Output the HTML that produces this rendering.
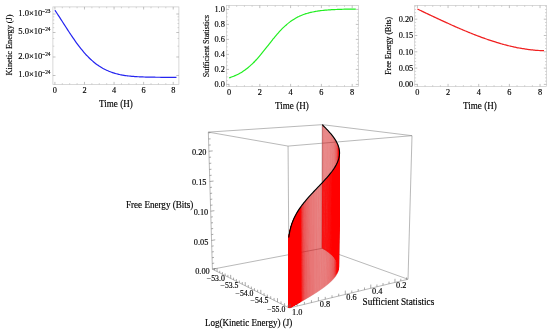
<!DOCTYPE html>
<html><head><meta charset="utf-8"><style>html,body{margin:0;padding:0;background:#fff;overflow:hidden}svg{display:block}</style></head><body>
<svg width="550" height="331" viewBox="0 0 550 331" font-family="Liberation Serif, Times New Roman, serif" fill="#000">
<style>text{stroke:#000;stroke-width:0.15px;paint-order:stroke}</style>
<rect width="550" height="331" fill="#fff"/>
<rect x="52.9" y="6.9" width="126" height="77.6" fill="none" stroke="#c8c8c8" stroke-width="0.7"/>
<line x1="54.9" y1="84.5" x2="54.9" y2="81.9" stroke="#909090" stroke-width="0.55"/>
<line x1="54.9" y1="6.9" x2="54.9" y2="9.5" stroke="#909090" stroke-width="0.55"/>
<line x1="62.3" y1="84.5" x2="62.3" y2="83.1" stroke="#b0b0b0" stroke-width="0.55"/>
<line x1="62.3" y1="6.9" x2="62.3" y2="8.3" stroke="#b0b0b0" stroke-width="0.55"/>
<line x1="69.69" y1="84.5" x2="69.69" y2="83.1" stroke="#b0b0b0" stroke-width="0.55"/>
<line x1="69.69" y1="6.9" x2="69.69" y2="8.3" stroke="#b0b0b0" stroke-width="0.55"/>
<line x1="77.08" y1="84.5" x2="77.08" y2="83.1" stroke="#b0b0b0" stroke-width="0.55"/>
<line x1="77.08" y1="6.9" x2="77.08" y2="8.3" stroke="#b0b0b0" stroke-width="0.55"/>
<line x1="84.48" y1="84.5" x2="84.48" y2="81.9" stroke="#909090" stroke-width="0.55"/>
<line x1="84.48" y1="6.9" x2="84.48" y2="9.5" stroke="#909090" stroke-width="0.55"/>
<line x1="91.88" y1="84.5" x2="91.88" y2="83.1" stroke="#b0b0b0" stroke-width="0.55"/>
<line x1="91.88" y1="6.9" x2="91.88" y2="8.3" stroke="#b0b0b0" stroke-width="0.55"/>
<line x1="99.27" y1="84.5" x2="99.27" y2="83.1" stroke="#b0b0b0" stroke-width="0.55"/>
<line x1="99.27" y1="6.9" x2="99.27" y2="8.3" stroke="#b0b0b0" stroke-width="0.55"/>
<line x1="106.66" y1="84.5" x2="106.66" y2="83.1" stroke="#b0b0b0" stroke-width="0.55"/>
<line x1="106.66" y1="6.9" x2="106.66" y2="8.3" stroke="#b0b0b0" stroke-width="0.55"/>
<line x1="114.06" y1="84.5" x2="114.06" y2="81.9" stroke="#909090" stroke-width="0.55"/>
<line x1="114.06" y1="6.9" x2="114.06" y2="9.5" stroke="#909090" stroke-width="0.55"/>
<line x1="121.45" y1="84.5" x2="121.45" y2="83.1" stroke="#b0b0b0" stroke-width="0.55"/>
<line x1="121.45" y1="6.9" x2="121.45" y2="8.3" stroke="#b0b0b0" stroke-width="0.55"/>
<line x1="128.85" y1="84.5" x2="128.85" y2="83.1" stroke="#b0b0b0" stroke-width="0.55"/>
<line x1="128.85" y1="6.9" x2="128.85" y2="8.3" stroke="#b0b0b0" stroke-width="0.55"/>
<line x1="136.25" y1="84.5" x2="136.25" y2="83.1" stroke="#b0b0b0" stroke-width="0.55"/>
<line x1="136.25" y1="6.9" x2="136.25" y2="8.3" stroke="#b0b0b0" stroke-width="0.55"/>
<line x1="143.64" y1="84.5" x2="143.64" y2="81.9" stroke="#909090" stroke-width="0.55"/>
<line x1="143.64" y1="6.9" x2="143.64" y2="9.5" stroke="#909090" stroke-width="0.55"/>
<line x1="151.03" y1="84.5" x2="151.03" y2="83.1" stroke="#b0b0b0" stroke-width="0.55"/>
<line x1="151.03" y1="6.9" x2="151.03" y2="8.3" stroke="#b0b0b0" stroke-width="0.55"/>
<line x1="158.43" y1="84.5" x2="158.43" y2="83.1" stroke="#b0b0b0" stroke-width="0.55"/>
<line x1="158.43" y1="6.9" x2="158.43" y2="8.3" stroke="#b0b0b0" stroke-width="0.55"/>
<line x1="165.82" y1="84.5" x2="165.82" y2="83.1" stroke="#b0b0b0" stroke-width="0.55"/>
<line x1="165.82" y1="6.9" x2="165.82" y2="8.3" stroke="#b0b0b0" stroke-width="0.55"/>
<line x1="173.22" y1="84.5" x2="173.22" y2="81.9" stroke="#909090" stroke-width="0.55"/>
<line x1="173.22" y1="6.9" x2="173.22" y2="9.5" stroke="#909090" stroke-width="0.55"/>
<line x1="52.9" y1="75.5" x2="55.5" y2="75.5" stroke="#909090" stroke-width="0.55"/>
<line x1="178.9" y1="75.5" x2="176.3" y2="75.5" stroke="#909090" stroke-width="0.55"/>
<line x1="52.9" y1="56.99" x2="55.5" y2="56.99" stroke="#909090" stroke-width="0.55"/>
<line x1="178.9" y1="56.99" x2="176.3" y2="56.99" stroke="#909090" stroke-width="0.55"/>
<line x1="52.9" y1="46.16" x2="54.3" y2="46.16" stroke="#b0b0b0" stroke-width="0.55"/>
<line x1="178.9" y1="46.16" x2="177.5" y2="46.16" stroke="#b0b0b0" stroke-width="0.55"/>
<line x1="52.9" y1="38.47" x2="54.3" y2="38.47" stroke="#b0b0b0" stroke-width="0.55"/>
<line x1="178.9" y1="38.47" x2="177.5" y2="38.47" stroke="#b0b0b0" stroke-width="0.55"/>
<line x1="52.9" y1="32.51" x2="55.5" y2="32.51" stroke="#909090" stroke-width="0.55"/>
<line x1="178.9" y1="32.51" x2="176.3" y2="32.51" stroke="#909090" stroke-width="0.55"/>
<line x1="52.9" y1="27.64" x2="54.3" y2="27.64" stroke="#b0b0b0" stroke-width="0.55"/>
<line x1="178.9" y1="27.64" x2="177.5" y2="27.64" stroke="#b0b0b0" stroke-width="0.55"/>
<line x1="52.9" y1="23.53" x2="54.3" y2="23.53" stroke="#b0b0b0" stroke-width="0.55"/>
<line x1="178.9" y1="23.53" x2="177.5" y2="23.53" stroke="#b0b0b0" stroke-width="0.55"/>
<line x1="52.9" y1="19.96" x2="54.3" y2="19.96" stroke="#b0b0b0" stroke-width="0.55"/>
<line x1="178.9" y1="19.96" x2="177.5" y2="19.96" stroke="#b0b0b0" stroke-width="0.55"/>
<line x1="52.9" y1="16.81" x2="54.3" y2="16.81" stroke="#b0b0b0" stroke-width="0.55"/>
<line x1="178.9" y1="16.81" x2="177.5" y2="16.81" stroke="#b0b0b0" stroke-width="0.55"/>
<line x1="52.9" y1="14" x2="55.5" y2="14" stroke="#909090" stroke-width="0.55"/>
<line x1="178.9" y1="14" x2="176.3" y2="14" stroke="#909090" stroke-width="0.55"/>
<text x="42.4" y="15.9" font-size="8.6" text-anchor="end">1.0×10</text>
<text x="42.3" y="12.6" font-size="5.2" textLength="8.2" lengthAdjust="spacingAndGlyphs">−23</text>
<text x="42.4" y="34.41" font-size="8.6" text-anchor="end">5.0×10</text>
<text x="42.3" y="31.11" font-size="5.2" textLength="8.2" lengthAdjust="spacingAndGlyphs">−24</text>
<text x="42.4" y="58.89" font-size="8.6" text-anchor="end">2.0×10</text>
<text x="42.3" y="55.59" font-size="5.2" textLength="8.2" lengthAdjust="spacingAndGlyphs">−24</text>
<text x="42.4" y="77.4" font-size="8.6" text-anchor="end">1.0×10</text>
<text x="42.3" y="74.1" font-size="5.2" textLength="8.2" lengthAdjust="spacingAndGlyphs">−24</text>
<text x="54.9" y="92.7" font-size="8.3" text-anchor="middle">0</text>
<text x="84.48" y="92.7" font-size="8.3" text-anchor="middle">2</text>
<text x="114.06" y="92.7" font-size="8.3" text-anchor="middle">4</text>
<text x="143.64" y="92.7" font-size="8.3" text-anchor="middle">6</text>
<text x="173.22" y="92.7" font-size="8.3" text-anchor="middle">8</text>
<text x="99.1" y="107.2" font-size="9.3" text-anchor="start" textLength="33.6" lengthAdjust="spacingAndGlyphs">Time (H)</text>
<text transform="translate(12.3,75.4) rotate(-90)" font-size="8.4" textLength="61" lengthAdjust="spacingAndGlyphs">Kinetic Energy (J)</text>
<path d="M54.9,10.26 C55.16,10.64 55.93,11.76 56.44,12.53 C56.95,13.29 57.46,14.07 57.98,14.84 C58.49,15.62 59,16.41 59.52,17.2 C60.03,17.99 60.54,18.78 61.06,19.58 C61.57,20.38 62.08,21.18 62.59,21.98 C63.11,22.78 63.62,23.58 64.13,24.38 C64.65,25.18 65.16,25.98 65.67,26.78 C66.19,27.58 66.7,28.38 67.21,29.17 C67.72,29.96 68.24,30.75 68.75,31.54 C69.26,32.32 69.78,33.1 70.29,33.88 C70.8,34.65 71.32,35.42 71.83,36.18 C72.34,36.94 72.85,37.69 73.37,38.43 C73.88,39.18 74.39,39.91 74.91,40.64 C75.42,41.36 75.93,42.08 76.44,42.79 C76.96,43.5 77.47,44.19 77.98,44.88 C78.5,45.56 79.01,46.24 79.52,46.9 C80.04,47.56 80.55,48.22 81.06,48.86 C81.57,49.5 82.09,50.12 82.6,50.74 C83.11,51.35 83.63,51.96 84.14,52.55 C84.65,53.14 85.17,53.71 85.68,54.28 C86.19,54.84 86.7,55.39 87.22,55.93 C87.73,56.47 88.24,56.99 88.76,57.5 C89.27,58.01 89.78,58.51 90.29,59 C90.81,59.48 91.32,59.95 91.83,60.41 C92.35,60.87 92.86,61.32 93.37,61.75 C93.89,62.18 94.4,62.6 94.91,63.01 C95.42,63.42 95.94,63.81 96.45,64.2 C96.96,64.58 97.48,64.95 97.99,65.31 C98.5,65.67 99.02,66.01 99.53,66.35 C100.04,66.68 100.55,67 101.07,67.32 C101.58,67.63 102.09,67.93 102.61,68.22 C103.12,68.51 103.63,68.79 104.15,69.06 C104.66,69.32 105.17,69.58 105.68,69.83 C106.2,70.08 106.71,70.32 107.22,70.55 C107.74,70.78 108.25,71 108.76,71.21 C109.27,71.42 109.79,71.62 110.3,71.81 C110.81,72.01 111.33,72.19 111.84,72.37 C112.35,72.55 112.87,72.72 113.38,72.88 C113.89,73.04 114.4,73.2 114.92,73.35 C115.43,73.49 115.94,73.64 116.46,73.77 C116.97,73.9 117.48,74.03 118,74.16 C118.51,74.28 119.02,74.39 119.53,74.5 C120.05,74.62 120.56,74.72 121.07,74.82 C121.59,74.92 122.1,75.02 122.61,75.11 C123.12,75.2 123.64,75.28 124.15,75.36 C124.66,75.44 125.18,75.52 125.69,75.59 C126.2,75.67 126.72,75.73 127.23,75.8 C127.74,75.86 128.25,75.93 128.77,75.98 C129.28,76.04 129.79,76.1 130.31,76.15 C130.82,76.2 131.33,76.25 131.85,76.3 C132.36,76.34 132.87,76.39 133.38,76.43 C133.9,76.47 134.41,76.51 134.92,76.54 C135.44,76.58 135.95,76.61 136.46,76.64 C136.98,76.68 137.49,76.71 138,76.74 C138.51,76.76 139.03,76.79 139.54,76.81 C140.05,76.84 140.57,76.86 141.08,76.88 C141.59,76.91 142.1,76.93 142.62,76.95 C143.13,76.97 143.64,76.98 144.16,77 C144.67,77.02 145.18,77.03 145.7,77.05 C146.21,77.06 146.72,77.07 147.23,77.09 C147.75,77.1 148.26,77.11 148.77,77.12 C149.29,77.13 149.8,77.14 150.31,77.15 C150.83,77.16 151.34,77.17 151.85,77.18 C152.36,77.19 152.88,77.2 153.39,77.2 C153.9,77.21 154.42,77.22 154.93,77.22 C155.44,77.23 155.96,77.23 156.47,77.24 C156.98,77.24 157.49,77.25 158.01,77.25 C158.52,77.26 159.03,77.26 159.55,77.27 C160.06,77.27 160.57,77.27 161.08,77.28 C161.6,77.28 162.11,77.28 162.62,77.29 C163.14,77.29 163.65,77.29 164.16,77.29 C164.68,77.3 165.19,77.3 165.7,77.3 C166.21,77.3 166.73,77.3 167.24,77.31 C167.75,77.31 168.27,77.31 168.78,77.31 C169.29,77.31 169.81,77.31 170.32,77.32 C170.83,77.32 171.34,77.32 171.86,77.32 C172.37,77.32 172.88,77.32 173.4,77.32 C173.91,77.32 174.42,77.32 174.93,77.32 C175.45,77.32 176.22,77.33 176.47,77.33" fill="none" stroke="#2424f0" stroke-width="1.2" stroke-linejoin="round"/>
<rect x="226.4" y="5.5" width="132" height="81" fill="none" stroke="#c8c8c8" stroke-width="0.7"/>
<line x1="229" y1="86.5" x2="229" y2="83.9" stroke="#909090" stroke-width="0.55"/>
<line x1="229" y1="5.5" x2="229" y2="8.1" stroke="#909090" stroke-width="0.55"/>
<line x1="236.7" y1="86.5" x2="236.7" y2="85.1" stroke="#b0b0b0" stroke-width="0.55"/>
<line x1="236.7" y1="5.5" x2="236.7" y2="6.9" stroke="#b0b0b0" stroke-width="0.55"/>
<line x1="244.4" y1="86.5" x2="244.4" y2="85.1" stroke="#b0b0b0" stroke-width="0.55"/>
<line x1="244.4" y1="5.5" x2="244.4" y2="6.9" stroke="#b0b0b0" stroke-width="0.55"/>
<line x1="252.1" y1="86.5" x2="252.1" y2="85.1" stroke="#b0b0b0" stroke-width="0.55"/>
<line x1="252.1" y1="5.5" x2="252.1" y2="6.9" stroke="#b0b0b0" stroke-width="0.55"/>
<line x1="259.8" y1="86.5" x2="259.8" y2="83.9" stroke="#909090" stroke-width="0.55"/>
<line x1="259.8" y1="5.5" x2="259.8" y2="8.1" stroke="#909090" stroke-width="0.55"/>
<line x1="267.5" y1="86.5" x2="267.5" y2="85.1" stroke="#b0b0b0" stroke-width="0.55"/>
<line x1="267.5" y1="5.5" x2="267.5" y2="6.9" stroke="#b0b0b0" stroke-width="0.55"/>
<line x1="275.2" y1="86.5" x2="275.2" y2="85.1" stroke="#b0b0b0" stroke-width="0.55"/>
<line x1="275.2" y1="5.5" x2="275.2" y2="6.9" stroke="#b0b0b0" stroke-width="0.55"/>
<line x1="282.9" y1="86.5" x2="282.9" y2="85.1" stroke="#b0b0b0" stroke-width="0.55"/>
<line x1="282.9" y1="5.5" x2="282.9" y2="6.9" stroke="#b0b0b0" stroke-width="0.55"/>
<line x1="290.6" y1="86.5" x2="290.6" y2="83.9" stroke="#909090" stroke-width="0.55"/>
<line x1="290.6" y1="5.5" x2="290.6" y2="8.1" stroke="#909090" stroke-width="0.55"/>
<line x1="298.3" y1="86.5" x2="298.3" y2="85.1" stroke="#b0b0b0" stroke-width="0.55"/>
<line x1="298.3" y1="5.5" x2="298.3" y2="6.9" stroke="#b0b0b0" stroke-width="0.55"/>
<line x1="306" y1="86.5" x2="306" y2="85.1" stroke="#b0b0b0" stroke-width="0.55"/>
<line x1="306" y1="5.5" x2="306" y2="6.9" stroke="#b0b0b0" stroke-width="0.55"/>
<line x1="313.7" y1="86.5" x2="313.7" y2="85.1" stroke="#b0b0b0" stroke-width="0.55"/>
<line x1="313.7" y1="5.5" x2="313.7" y2="6.9" stroke="#b0b0b0" stroke-width="0.55"/>
<line x1="321.4" y1="86.5" x2="321.4" y2="83.9" stroke="#909090" stroke-width="0.55"/>
<line x1="321.4" y1="5.5" x2="321.4" y2="8.1" stroke="#909090" stroke-width="0.55"/>
<line x1="329.1" y1="86.5" x2="329.1" y2="85.1" stroke="#b0b0b0" stroke-width="0.55"/>
<line x1="329.1" y1="5.5" x2="329.1" y2="6.9" stroke="#b0b0b0" stroke-width="0.55"/>
<line x1="336.8" y1="86.5" x2="336.8" y2="85.1" stroke="#b0b0b0" stroke-width="0.55"/>
<line x1="336.8" y1="5.5" x2="336.8" y2="6.9" stroke="#b0b0b0" stroke-width="0.55"/>
<line x1="344.5" y1="86.5" x2="344.5" y2="85.1" stroke="#b0b0b0" stroke-width="0.55"/>
<line x1="344.5" y1="5.5" x2="344.5" y2="6.9" stroke="#b0b0b0" stroke-width="0.55"/>
<line x1="352.2" y1="86.5" x2="352.2" y2="83.9" stroke="#909090" stroke-width="0.55"/>
<line x1="352.2" y1="5.5" x2="352.2" y2="8.1" stroke="#909090" stroke-width="0.55"/>
<line x1="226.4" y1="84.4" x2="229" y2="84.4" stroke="#909090" stroke-width="0.55"/>
<line x1="358.4" y1="84.4" x2="355.8" y2="84.4" stroke="#909090" stroke-width="0.55"/>
<line x1="226.4" y1="80.65" x2="227.8" y2="80.65" stroke="#b0b0b0" stroke-width="0.55"/>
<line x1="358.4" y1="80.65" x2="357" y2="80.65" stroke="#b0b0b0" stroke-width="0.55"/>
<line x1="226.4" y1="76.9" x2="227.8" y2="76.9" stroke="#b0b0b0" stroke-width="0.55"/>
<line x1="358.4" y1="76.9" x2="357" y2="76.9" stroke="#b0b0b0" stroke-width="0.55"/>
<line x1="226.4" y1="73.15" x2="227.8" y2="73.15" stroke="#b0b0b0" stroke-width="0.55"/>
<line x1="358.4" y1="73.15" x2="357" y2="73.15" stroke="#b0b0b0" stroke-width="0.55"/>
<line x1="226.4" y1="69.4" x2="229" y2="69.4" stroke="#909090" stroke-width="0.55"/>
<line x1="358.4" y1="69.4" x2="355.8" y2="69.4" stroke="#909090" stroke-width="0.55"/>
<line x1="226.4" y1="65.65" x2="227.8" y2="65.65" stroke="#b0b0b0" stroke-width="0.55"/>
<line x1="358.4" y1="65.65" x2="357" y2="65.65" stroke="#b0b0b0" stroke-width="0.55"/>
<line x1="226.4" y1="61.9" x2="227.8" y2="61.9" stroke="#b0b0b0" stroke-width="0.55"/>
<line x1="358.4" y1="61.9" x2="357" y2="61.9" stroke="#b0b0b0" stroke-width="0.55"/>
<line x1="226.4" y1="58.15" x2="227.8" y2="58.15" stroke="#b0b0b0" stroke-width="0.55"/>
<line x1="358.4" y1="58.15" x2="357" y2="58.15" stroke="#b0b0b0" stroke-width="0.55"/>
<line x1="226.4" y1="54.4" x2="229" y2="54.4" stroke="#909090" stroke-width="0.55"/>
<line x1="358.4" y1="54.4" x2="355.8" y2="54.4" stroke="#909090" stroke-width="0.55"/>
<line x1="226.4" y1="50.65" x2="227.8" y2="50.65" stroke="#b0b0b0" stroke-width="0.55"/>
<line x1="358.4" y1="50.65" x2="357" y2="50.65" stroke="#b0b0b0" stroke-width="0.55"/>
<line x1="226.4" y1="46.9" x2="227.8" y2="46.9" stroke="#b0b0b0" stroke-width="0.55"/>
<line x1="358.4" y1="46.9" x2="357" y2="46.9" stroke="#b0b0b0" stroke-width="0.55"/>
<line x1="226.4" y1="43.15" x2="227.8" y2="43.15" stroke="#b0b0b0" stroke-width="0.55"/>
<line x1="358.4" y1="43.15" x2="357" y2="43.15" stroke="#b0b0b0" stroke-width="0.55"/>
<line x1="226.4" y1="39.4" x2="229" y2="39.4" stroke="#909090" stroke-width="0.55"/>
<line x1="358.4" y1="39.4" x2="355.8" y2="39.4" stroke="#909090" stroke-width="0.55"/>
<line x1="226.4" y1="35.65" x2="227.8" y2="35.65" stroke="#b0b0b0" stroke-width="0.55"/>
<line x1="358.4" y1="35.65" x2="357" y2="35.65" stroke="#b0b0b0" stroke-width="0.55"/>
<line x1="226.4" y1="31.9" x2="227.8" y2="31.9" stroke="#b0b0b0" stroke-width="0.55"/>
<line x1="358.4" y1="31.9" x2="357" y2="31.9" stroke="#b0b0b0" stroke-width="0.55"/>
<line x1="226.4" y1="28.15" x2="227.8" y2="28.15" stroke="#b0b0b0" stroke-width="0.55"/>
<line x1="358.4" y1="28.15" x2="357" y2="28.15" stroke="#b0b0b0" stroke-width="0.55"/>
<line x1="226.4" y1="24.4" x2="229" y2="24.4" stroke="#909090" stroke-width="0.55"/>
<line x1="358.4" y1="24.4" x2="355.8" y2="24.4" stroke="#909090" stroke-width="0.55"/>
<line x1="226.4" y1="20.65" x2="227.8" y2="20.65" stroke="#b0b0b0" stroke-width="0.55"/>
<line x1="358.4" y1="20.65" x2="357" y2="20.65" stroke="#b0b0b0" stroke-width="0.55"/>
<line x1="226.4" y1="16.9" x2="227.8" y2="16.9" stroke="#b0b0b0" stroke-width="0.55"/>
<line x1="358.4" y1="16.9" x2="357" y2="16.9" stroke="#b0b0b0" stroke-width="0.55"/>
<line x1="226.4" y1="13.15" x2="227.8" y2="13.15" stroke="#b0b0b0" stroke-width="0.55"/>
<line x1="358.4" y1="13.15" x2="357" y2="13.15" stroke="#b0b0b0" stroke-width="0.55"/>
<line x1="226.4" y1="9.4" x2="229" y2="9.4" stroke="#909090" stroke-width="0.55"/>
<line x1="358.4" y1="9.4" x2="355.8" y2="9.4" stroke="#909090" stroke-width="0.55"/>
<text x="224.8" y="87.2" font-size="8.3" text-anchor="end">0.0</text>
<text x="224.8" y="72.2" font-size="8.3" text-anchor="end">0.2</text>
<text x="224.8" y="57.2" font-size="8.3" text-anchor="end">0.4</text>
<text x="224.8" y="42.2" font-size="8.3" text-anchor="end">0.6</text>
<text x="224.8" y="27.2" font-size="8.3" text-anchor="end">0.8</text>
<text x="224.8" y="12.2" font-size="8.3" text-anchor="end">1.0</text>
<text x="229" y="95.3" font-size="8.3" text-anchor="middle">0</text>
<text x="259.8" y="95.3" font-size="8.3" text-anchor="middle">2</text>
<text x="290.6" y="95.3" font-size="8.3" text-anchor="middle">4</text>
<text x="321.4" y="95.3" font-size="8.3" text-anchor="middle">6</text>
<text x="352.2" y="95.3" font-size="8.3" text-anchor="middle">8</text>
<text x="275.1" y="108.5" font-size="9.3" text-anchor="start" textLength="33.6" lengthAdjust="spacingAndGlyphs">Time (H)</text>
<text transform="translate(208.8,77.3) rotate(-90)" font-size="8.0" textLength="62.3" lengthAdjust="spacingAndGlyphs">Sufficient Statistics</text>
<path d="M229,77.87 C229.27,77.78 230.07,77.54 230.6,77.36 C231.14,77.18 231.67,77 232.21,76.8 C232.74,76.61 233.28,76.4 233.81,76.19 C234.35,75.98 234.88,75.75 235.42,75.52 C235.95,75.28 236.49,75.04 237.02,74.78 C237.56,74.53 238.09,74.26 238.63,73.98 C239.16,73.7 239.7,73.41 240.23,73.1 C240.77,72.8 241.3,72.48 241.84,72.15 C242.37,71.82 242.91,71.48 243.44,71.12 C243.98,70.76 244.51,70.39 245.05,70 C245.58,69.62 246.12,69.22 246.65,68.8 C247.19,68.39 247.72,67.96 248.26,67.52 C248.79,67.07 249.33,66.61 249.86,66.14 C250.4,65.67 250.93,65.18 251.47,64.68 C252,64.17 252.54,63.66 253.07,63.12 C253.61,62.59 254.14,62.05 254.68,61.49 C255.21,60.93 255.75,60.36 256.28,59.77 C256.82,59.19 257.35,58.59 257.89,57.98 C258.42,57.37 258.96,56.75 259.49,56.12 C260.03,55.49 260.56,54.85 261.1,54.2 C261.63,53.56 262.17,52.9 262.7,52.24 C263.24,51.57 263.77,50.9 264.31,50.23 C264.84,49.55 265.38,48.87 265.91,48.19 C266.45,47.51 266.98,46.82 267.52,46.14 C268.05,45.45 268.59,44.76 269.12,44.08 C269.65,43.4 270.19,42.71 270.72,42.04 C271.26,41.36 271.79,40.68 272.33,40.01 C272.86,39.34 273.4,38.68 273.93,38.02 C274.47,37.37 275,36.72 275.54,36.08 C276.07,35.44 276.61,34.81 277.14,34.19 C277.68,33.57 278.21,32.97 278.75,32.37 C279.28,31.77 279.82,31.19 280.35,30.62 C280.89,30.05 281.42,29.49 281.96,28.95 C282.49,28.4 283.03,27.87 283.56,27.36 C284.1,26.84 284.63,26.34 285.17,25.85 C285.7,25.37 286.24,24.89 286.77,24.44 C287.31,23.98 287.84,23.54 288.38,23.11 C288.91,22.68 289.45,22.27 289.98,21.87 C290.52,21.47 291.05,21.09 291.59,20.71 C292.12,20.34 292.66,19.99 293.19,19.65 C293.73,19.3 294.26,18.97 294.8,18.66 C295.33,18.34 295.87,18.04 296.4,17.75 C296.94,17.46 297.47,17.18 298.01,16.91 C298.54,16.64 299.08,16.39 299.61,16.14 C300.15,15.9 300.68,15.67 301.22,15.44 C301.75,15.22 302.29,15.01 302.82,14.8 C303.36,14.6 303.89,14.41 304.43,14.22 C304.96,14.04 305.5,13.86 306.03,13.69 C306.57,13.52 307.1,13.36 307.64,13.21 C308.17,13.06 308.71,12.92 309.24,12.78 C309.77,12.64 310.31,12.51 310.84,12.38 C311.38,12.26 311.91,12.14 312.45,12.03 C312.98,11.91 313.52,11.81 314.05,11.71 C314.59,11.6 315.12,11.51 315.66,11.42 C316.19,11.32 316.73,11.24 317.26,11.15 C317.8,11.07 318.33,10.99 318.87,10.92 C319.4,10.85 319.94,10.77 320.47,10.71 C321.01,10.64 321.54,10.58 322.08,10.52 C322.61,10.46 323.15,10.4 323.68,10.35 C324.22,10.29 324.75,10.24 325.29,10.19 C325.82,10.14 326.36,10.1 326.89,10.05 C327.43,10.01 327.96,9.97 328.5,9.93 C329.03,9.89 329.57,9.85 330.1,9.82 C330.64,9.78 331.17,9.75 331.71,9.72 C332.24,9.69 332.78,9.66 333.31,9.63 C333.85,9.6 334.38,9.58 334.92,9.55 C335.45,9.53 335.99,9.5 336.52,9.48 C337.06,9.46 337.59,9.43 338.13,9.41 C338.66,9.39 339.2,9.38 339.73,9.36 C340.27,9.34 340.8,9.32 341.34,9.31 C341.87,9.29 342.41,9.27 342.94,9.26 C343.48,9.24 344.01,9.23 344.55,9.22 C345.08,9.2 345.62,9.19 346.15,9.18 C346.69,9.17 347.22,9.16 347.76,9.15 C348.29,9.14 348.82,9.13 349.36,9.12 C349.89,9.11 350.43,9.1 350.96,9.09 C351.5,9.08 352.03,9.08 352.57,9.07 C353.1,9.06 353.64,9.05 354.17,9.05 C354.71,9.04 355.51,9.03 355.78,9.03" fill="none" stroke="#22ee22" stroke-width="1.2" stroke-linejoin="round"/>
<rect x="414.7" y="5.5" width="131.7" height="81" fill="none" stroke="#c8c8c8" stroke-width="0.7"/>
<line x1="417.4" y1="86.5" x2="417.4" y2="83.9" stroke="#909090" stroke-width="0.55"/>
<line x1="417.4" y1="5.5" x2="417.4" y2="8.1" stroke="#909090" stroke-width="0.55"/>
<line x1="425.06" y1="86.5" x2="425.06" y2="85.1" stroke="#b0b0b0" stroke-width="0.55"/>
<line x1="425.06" y1="5.5" x2="425.06" y2="6.9" stroke="#b0b0b0" stroke-width="0.55"/>
<line x1="432.73" y1="86.5" x2="432.73" y2="85.1" stroke="#b0b0b0" stroke-width="0.55"/>
<line x1="432.73" y1="5.5" x2="432.73" y2="6.9" stroke="#b0b0b0" stroke-width="0.55"/>
<line x1="440.39" y1="86.5" x2="440.39" y2="85.1" stroke="#b0b0b0" stroke-width="0.55"/>
<line x1="440.39" y1="5.5" x2="440.39" y2="6.9" stroke="#b0b0b0" stroke-width="0.55"/>
<line x1="448.06" y1="86.5" x2="448.06" y2="83.9" stroke="#909090" stroke-width="0.55"/>
<line x1="448.06" y1="5.5" x2="448.06" y2="8.1" stroke="#909090" stroke-width="0.55"/>
<line x1="455.72" y1="86.5" x2="455.72" y2="85.1" stroke="#b0b0b0" stroke-width="0.55"/>
<line x1="455.72" y1="5.5" x2="455.72" y2="6.9" stroke="#b0b0b0" stroke-width="0.55"/>
<line x1="463.39" y1="86.5" x2="463.39" y2="85.1" stroke="#b0b0b0" stroke-width="0.55"/>
<line x1="463.39" y1="5.5" x2="463.39" y2="6.9" stroke="#b0b0b0" stroke-width="0.55"/>
<line x1="471.05" y1="86.5" x2="471.05" y2="85.1" stroke="#b0b0b0" stroke-width="0.55"/>
<line x1="471.05" y1="5.5" x2="471.05" y2="6.9" stroke="#b0b0b0" stroke-width="0.55"/>
<line x1="478.72" y1="86.5" x2="478.72" y2="83.9" stroke="#909090" stroke-width="0.55"/>
<line x1="478.72" y1="5.5" x2="478.72" y2="8.1" stroke="#909090" stroke-width="0.55"/>
<line x1="486.38" y1="86.5" x2="486.38" y2="85.1" stroke="#b0b0b0" stroke-width="0.55"/>
<line x1="486.38" y1="5.5" x2="486.38" y2="6.9" stroke="#b0b0b0" stroke-width="0.55"/>
<line x1="494.05" y1="86.5" x2="494.05" y2="85.1" stroke="#b0b0b0" stroke-width="0.55"/>
<line x1="494.05" y1="5.5" x2="494.05" y2="6.9" stroke="#b0b0b0" stroke-width="0.55"/>
<line x1="501.71" y1="86.5" x2="501.71" y2="85.1" stroke="#b0b0b0" stroke-width="0.55"/>
<line x1="501.71" y1="5.5" x2="501.71" y2="6.9" stroke="#b0b0b0" stroke-width="0.55"/>
<line x1="509.38" y1="86.5" x2="509.38" y2="83.9" stroke="#909090" stroke-width="0.55"/>
<line x1="509.38" y1="5.5" x2="509.38" y2="8.1" stroke="#909090" stroke-width="0.55"/>
<line x1="517.04" y1="86.5" x2="517.04" y2="85.1" stroke="#b0b0b0" stroke-width="0.55"/>
<line x1="517.04" y1="5.5" x2="517.04" y2="6.9" stroke="#b0b0b0" stroke-width="0.55"/>
<line x1="524.71" y1="86.5" x2="524.71" y2="85.1" stroke="#b0b0b0" stroke-width="0.55"/>
<line x1="524.71" y1="5.5" x2="524.71" y2="6.9" stroke="#b0b0b0" stroke-width="0.55"/>
<line x1="532.38" y1="86.5" x2="532.38" y2="85.1" stroke="#b0b0b0" stroke-width="0.55"/>
<line x1="532.38" y1="5.5" x2="532.38" y2="6.9" stroke="#b0b0b0" stroke-width="0.55"/>
<line x1="540.04" y1="86.5" x2="540.04" y2="83.9" stroke="#909090" stroke-width="0.55"/>
<line x1="540.04" y1="5.5" x2="540.04" y2="8.1" stroke="#909090" stroke-width="0.55"/>
<line x1="414.7" y1="84.4" x2="417.3" y2="84.4" stroke="#909090" stroke-width="0.55"/>
<line x1="546.4" y1="84.4" x2="543.8" y2="84.4" stroke="#909090" stroke-width="0.55"/>
<line x1="414.7" y1="81.14" x2="416.1" y2="81.14" stroke="#b0b0b0" stroke-width="0.55"/>
<line x1="546.4" y1="81.14" x2="545" y2="81.14" stroke="#b0b0b0" stroke-width="0.55"/>
<line x1="414.7" y1="77.88" x2="416.1" y2="77.88" stroke="#b0b0b0" stroke-width="0.55"/>
<line x1="546.4" y1="77.88" x2="545" y2="77.88" stroke="#b0b0b0" stroke-width="0.55"/>
<line x1="414.7" y1="74.62" x2="416.1" y2="74.62" stroke="#b0b0b0" stroke-width="0.55"/>
<line x1="546.4" y1="74.62" x2="545" y2="74.62" stroke="#b0b0b0" stroke-width="0.55"/>
<line x1="414.7" y1="71.36" x2="416.1" y2="71.36" stroke="#b0b0b0" stroke-width="0.55"/>
<line x1="546.4" y1="71.36" x2="545" y2="71.36" stroke="#b0b0b0" stroke-width="0.55"/>
<line x1="414.7" y1="68.1" x2="417.3" y2="68.1" stroke="#909090" stroke-width="0.55"/>
<line x1="546.4" y1="68.1" x2="543.8" y2="68.1" stroke="#909090" stroke-width="0.55"/>
<line x1="414.7" y1="64.84" x2="416.1" y2="64.84" stroke="#b0b0b0" stroke-width="0.55"/>
<line x1="546.4" y1="64.84" x2="545" y2="64.84" stroke="#b0b0b0" stroke-width="0.55"/>
<line x1="414.7" y1="61.58" x2="416.1" y2="61.58" stroke="#b0b0b0" stroke-width="0.55"/>
<line x1="546.4" y1="61.58" x2="545" y2="61.58" stroke="#b0b0b0" stroke-width="0.55"/>
<line x1="414.7" y1="58.32" x2="416.1" y2="58.32" stroke="#b0b0b0" stroke-width="0.55"/>
<line x1="546.4" y1="58.32" x2="545" y2="58.32" stroke="#b0b0b0" stroke-width="0.55"/>
<line x1="414.7" y1="55.06" x2="416.1" y2="55.06" stroke="#b0b0b0" stroke-width="0.55"/>
<line x1="546.4" y1="55.06" x2="545" y2="55.06" stroke="#b0b0b0" stroke-width="0.55"/>
<line x1="414.7" y1="51.8" x2="417.3" y2="51.8" stroke="#909090" stroke-width="0.55"/>
<line x1="546.4" y1="51.8" x2="543.8" y2="51.8" stroke="#909090" stroke-width="0.55"/>
<line x1="414.7" y1="48.54" x2="416.1" y2="48.54" stroke="#b0b0b0" stroke-width="0.55"/>
<line x1="546.4" y1="48.54" x2="545" y2="48.54" stroke="#b0b0b0" stroke-width="0.55"/>
<line x1="414.7" y1="45.28" x2="416.1" y2="45.28" stroke="#b0b0b0" stroke-width="0.55"/>
<line x1="546.4" y1="45.28" x2="545" y2="45.28" stroke="#b0b0b0" stroke-width="0.55"/>
<line x1="414.7" y1="42.02" x2="416.1" y2="42.02" stroke="#b0b0b0" stroke-width="0.55"/>
<line x1="546.4" y1="42.02" x2="545" y2="42.02" stroke="#b0b0b0" stroke-width="0.55"/>
<line x1="414.7" y1="38.76" x2="416.1" y2="38.76" stroke="#b0b0b0" stroke-width="0.55"/>
<line x1="546.4" y1="38.76" x2="545" y2="38.76" stroke="#b0b0b0" stroke-width="0.55"/>
<line x1="414.7" y1="35.5" x2="417.3" y2="35.5" stroke="#909090" stroke-width="0.55"/>
<line x1="546.4" y1="35.5" x2="543.8" y2="35.5" stroke="#909090" stroke-width="0.55"/>
<line x1="414.7" y1="32.24" x2="416.1" y2="32.24" stroke="#b0b0b0" stroke-width="0.55"/>
<line x1="546.4" y1="32.24" x2="545" y2="32.24" stroke="#b0b0b0" stroke-width="0.55"/>
<line x1="414.7" y1="28.98" x2="416.1" y2="28.98" stroke="#b0b0b0" stroke-width="0.55"/>
<line x1="546.4" y1="28.98" x2="545" y2="28.98" stroke="#b0b0b0" stroke-width="0.55"/>
<line x1="414.7" y1="25.72" x2="416.1" y2="25.72" stroke="#b0b0b0" stroke-width="0.55"/>
<line x1="546.4" y1="25.72" x2="545" y2="25.72" stroke="#b0b0b0" stroke-width="0.55"/>
<line x1="414.7" y1="22.46" x2="416.1" y2="22.46" stroke="#b0b0b0" stroke-width="0.55"/>
<line x1="546.4" y1="22.46" x2="545" y2="22.46" stroke="#b0b0b0" stroke-width="0.55"/>
<line x1="414.7" y1="19.2" x2="417.3" y2="19.2" stroke="#909090" stroke-width="0.55"/>
<line x1="546.4" y1="19.2" x2="543.8" y2="19.2" stroke="#909090" stroke-width="0.55"/>
<line x1="414.7" y1="15.94" x2="416.1" y2="15.94" stroke="#b0b0b0" stroke-width="0.55"/>
<line x1="546.4" y1="15.94" x2="545" y2="15.94" stroke="#b0b0b0" stroke-width="0.55"/>
<line x1="414.7" y1="12.68" x2="416.1" y2="12.68" stroke="#b0b0b0" stroke-width="0.55"/>
<line x1="546.4" y1="12.68" x2="545" y2="12.68" stroke="#b0b0b0" stroke-width="0.55"/>
<line x1="414.7" y1="9.42" x2="416.1" y2="9.42" stroke="#b0b0b0" stroke-width="0.55"/>
<line x1="546.4" y1="9.42" x2="545" y2="9.42" stroke="#b0b0b0" stroke-width="0.55"/>
<line x1="414.7" y1="6.16" x2="416.1" y2="6.16" stroke="#b0b0b0" stroke-width="0.55"/>
<line x1="546.4" y1="6.16" x2="545" y2="6.16" stroke="#b0b0b0" stroke-width="0.55"/>
<text x="413.2" y="87.2" font-size="8.3" text-anchor="end">0.00</text>
<text x="413.2" y="70.9" font-size="8.3" text-anchor="end">0.05</text>
<text x="413.2" y="54.6" font-size="8.3" text-anchor="end">0.10</text>
<text x="413.2" y="38.3" font-size="8.3" text-anchor="end">0.15</text>
<text x="413.2" y="22" font-size="8.3" text-anchor="end">0.20</text>
<text x="417.4" y="95.3" font-size="8.3" text-anchor="middle">0</text>
<text x="448.06" y="95.3" font-size="8.3" text-anchor="middle">2</text>
<text x="478.72" y="95.3" font-size="8.3" text-anchor="middle">4</text>
<text x="509.38" y="95.3" font-size="8.3" text-anchor="middle">6</text>
<text x="540.04" y="95.3" font-size="8.3" text-anchor="middle">8</text>
<text x="463.1" y="108.5" font-size="9.3" text-anchor="start" textLength="33.6" lengthAdjust="spacingAndGlyphs">Time (H)</text>
<text transform="translate(391.2,74.8) rotate(-90)" font-size="7.7" textLength="58" lengthAdjust="spacingAndGlyphs">Free Energy (Bits)</text>
<path d="M417.4,9.04 C417.67,9.17 418.47,9.55 419,9.8 C419.54,10.05 420.07,10.3 420.6,10.56 C421.14,10.81 421.67,11.06 422.21,11.31 C422.74,11.57 423.27,11.82 423.81,12.07 C424.34,12.33 424.88,12.58 425.41,12.83 C425.95,13.08 426.48,13.34 427.01,13.59 C427.55,13.84 428.08,14.09 428.62,14.35 C429.15,14.6 429.68,14.85 430.22,15.1 C430.75,15.35 431.29,15.61 431.82,15.86 C432.35,16.11 432.89,16.36 433.42,16.61 C433.96,16.86 434.49,17.11 435.02,17.36 C435.56,17.61 436.09,17.86 436.63,18.11 C437.16,18.36 437.69,18.61 438.23,18.86 C438.76,19.11 439.3,19.36 439.83,19.61 C440.37,19.85 440.9,20.1 441.43,20.35 C441.97,20.59 442.5,20.84 443.04,21.09 C443.57,21.33 444.1,21.58 444.64,21.82 C445.17,22.07 445.71,22.31 446.24,22.56 C446.77,22.8 447.31,23.04 447.84,23.28 C448.38,23.53 448.91,23.77 449.44,24.01 C449.98,24.25 450.51,24.49 451.05,24.73 C451.58,24.97 452.11,25.21 452.65,25.45 C453.18,25.68 453.72,25.92 454.25,26.16 C454.79,26.39 455.32,26.63 455.85,26.86 C456.39,27.1 456.92,27.33 457.46,27.57 C457.99,27.8 458.52,28.03 459.06,28.26 C459.59,28.49 460.13,28.72 460.66,28.95 C461.19,29.18 461.73,29.41 462.26,29.64 C462.8,29.86 463.33,30.09 463.86,30.31 C464.4,30.54 464.93,30.76 465.47,30.98 C466,31.21 466.53,31.43 467.07,31.65 C467.6,31.87 468.14,32.09 468.67,32.31 C469.2,32.52 469.74,32.74 470.27,32.96 C470.81,33.17 471.34,33.39 471.88,33.6 C472.41,33.81 472.94,34.02 473.48,34.23 C474.01,34.45 474.55,34.65 475.08,34.86 C475.61,35.07 476.15,35.28 476.68,35.48 C477.22,35.69 477.75,35.89 478.28,36.09 C478.82,36.29 479.35,36.49 479.89,36.69 C480.42,36.89 480.95,37.09 481.49,37.29 C482.02,37.48 482.56,37.68 483.09,37.87 C483.62,38.06 484.16,38.25 484.69,38.44 C485.23,38.63 485.76,38.82 486.3,39.01 C486.83,39.19 487.36,39.38 487.9,39.56 C488.43,39.74 488.97,39.92 489.5,40.1 C490.03,40.28 490.57,40.46 491.1,40.64 C491.64,40.81 492.17,40.99 492.7,41.16 C493.24,41.33 493.77,41.5 494.31,41.67 C494.84,41.84 495.37,42.01 495.91,42.17 C496.44,42.34 496.98,42.5 497.51,42.66 C498.04,42.82 498.58,42.98 499.11,43.14 C499.65,43.29 500.18,43.45 500.72,43.6 C501.25,43.75 501.78,43.91 502.32,44.05 C502.85,44.2 503.39,44.35 503.92,44.49 C504.45,44.64 504.99,44.78 505.52,44.92 C506.06,45.06 506.59,45.2 507.12,45.34 C507.66,45.47 508.19,45.61 508.73,45.74 C509.26,45.87 509.79,46 510.33,46.12 C510.86,46.25 511.4,46.38 511.93,46.5 C512.46,46.62 513,46.74 513.53,46.86 C514.07,46.97 514.6,47.09 515.14,47.2 C515.67,47.32 516.2,47.43 516.74,47.53 C517.27,47.64 517.81,47.75 518.34,47.85 C518.87,47.95 519.41,48.05 519.94,48.15 C520.48,48.25 521.01,48.34 521.54,48.44 C522.08,48.53 522.61,48.62 523.15,48.71 C523.68,48.79 524.21,48.88 524.75,48.96 C525.28,49.04 525.82,49.12 526.35,49.2 C526.88,49.27 527.42,49.35 527.95,49.42 C528.49,49.49 529.02,49.56 529.56,49.63 C530.09,49.69 530.62,49.75 531.16,49.81 C531.69,49.87 532.23,49.93 532.76,49.99 C533.29,50.04 533.83,50.09 534.36,50.14 C534.9,50.19 535.43,50.23 535.96,50.28 C536.5,50.32 537.03,50.36 537.57,50.4 C538.1,50.43 538.63,50.47 539.17,50.5 C539.7,50.53 540.24,50.55 540.77,50.58 C541.3,50.6 541.84,50.62 542.37,50.64 C542.91,50.66 543.71,50.68 543.98,50.69" fill="none" stroke="#f02020" stroke-width="1.25" stroke-linejoin="round"/>
<line x1="322.05" y1="248.35" x2="322.35" y2="124.67" stroke="#8a8a8a" stroke-width="0.6"/>
<line x1="322.05" y1="248.35" x2="408.02" y2="279.25" stroke="#8a8a8a" stroke-width="0.6"/>
<line x1="322.05" y1="248.35" x2="212.4" y2="269.18" stroke="#8a8a8a" stroke-width="0.6"/>
<line x1="212.4" y1="269.18" x2="208.33" y2="132.12" stroke="#8a8a8a" stroke-width="0.6"/>
<line x1="408.02" y1="279.25" x2="412" y2="135.68" stroke="#8a8a8a" stroke-width="0.6"/>
<line x1="289.24" y1="308.01" x2="288.07" y2="146.09" stroke="#8a8a8a" stroke-width="0.6"/>
<line x1="322.35" y1="124.67" x2="412" y2="135.68" stroke="#8a8a8a" stroke-width="0.6"/>
<line x1="322.35" y1="124.67" x2="208.33" y2="132.12" stroke="#8a8a8a" stroke-width="0.6"/>
<line x1="288.07" y1="146.09" x2="208.33" y2="132.12" stroke="#8a8a8a" stroke-width="0.6"/>
<line x1="288.07" y1="146.09" x2="412" y2="135.68" stroke="#8a8a8a" stroke-width="0.6"/>
<line x1="212.4" y1="269.18" x2="289.24" y2="308.01" stroke="#8a8a8a" stroke-width="0.6"/>
<line x1="289.24" y1="308.01" x2="408.02" y2="279.25" stroke="#8a8a8a" stroke-width="0.6"/>
<filter id="sf" filterUnits="userSpaceOnUse" x="270" y="110" width="90" height="210" color-interpolation-filters="sRGB"><feComponentTransfer><feFuncA type="table" tableValues="0.000 0.050 0.100 0.150 0.200 0.250 0.300 0.350 0.400 0.440 0.480 0.520 0.560 0.605 0.650 0.715 0.780 0.850 0.920 0.960 1.000 1.000 1.000 1.000 1.000 1.000 1.000 1.000 1.000 1.000 1.000 1.000 1.000 1.000 1.000 1.000 1.000 1.000 1.000 1.000 1.000"/></feComponentTransfer><feColorMatrix type="matrix" values="0 0 0 0.36 0.64  0 0 0 0 0  0 0 0 0 0  0 0 0 1 0"/></filter>
<g filter="url(#sf)" stroke="#ff0000" stroke-opacity="0.12" stroke-width="1.0">
<line x1="322.35" y1="124.67" x2="322.05" y2="248.35"/>
<line x1="322.74" y1="125.12" x2="322.42" y2="248.59"/>
<line x1="323.16" y1="125.56" x2="322.83" y2="248.85"/>
<line x1="323.59" y1="126.01" x2="323.24" y2="249.11"/>
<line x1="324.02" y1="126.46" x2="323.66" y2="249.38"/>
<line x1="324.46" y1="126.92" x2="324.09" y2="249.66"/>
<line x1="324.91" y1="127.38" x2="324.52" y2="249.93"/>
<line x1="325.35" y1="127.84" x2="324.95" y2="250.22"/>
<line x1="325.8" y1="128.3" x2="325.38" y2="250.5"/>
<line x1="326.25" y1="128.77" x2="325.81" y2="250.8"/>
<line x1="326.69" y1="129.24" x2="326.25" y2="251.09"/>
<line x1="327.14" y1="129.71" x2="326.68" y2="251.39"/>
<line x1="327.59" y1="130.19" x2="327.11" y2="251.69"/>
<line x1="328.03" y1="130.66" x2="327.54" y2="252"/>
<line x1="328.47" y1="131.14" x2="327.97" y2="252.31"/>
<line x1="328.91" y1="131.62" x2="328.39" y2="252.63"/>
<line x1="329.35" y1="132.11" x2="328.81" y2="252.94"/>
<line x1="329.78" y1="132.6" x2="329.23" y2="253.26"/>
<line x1="330.21" y1="133.08" x2="329.64" y2="253.59"/>
<line x1="330.63" y1="133.58" x2="330.05" y2="253.92"/>
<line x1="331.05" y1="134.07" x2="330.46" y2="254.25"/>
<line x1="331.46" y1="134.57" x2="330.86" y2="254.58"/>
<line x1="331.87" y1="135.06" x2="331.25" y2="254.92"/>
<line x1="332.27" y1="135.56" x2="331.64" y2="255.26"/>
<line x1="332.66" y1="136.07" x2="332.02" y2="255.6"/>
<line x1="333.05" y1="136.57" x2="332.4" y2="255.95"/>
<line x1="333.43" y1="137.08" x2="332.76" y2="256.3"/>
<line x1="333.8" y1="137.59" x2="333.12" y2="256.65"/>
<line x1="334.16" y1="138.1" x2="333.48" y2="257.01"/>
<line x1="334.52" y1="138.62" x2="333.82" y2="257.37"/>
<line x1="334.86" y1="139.13" x2="334.15" y2="257.73"/>
<line x1="335.2" y1="139.65" x2="334.48" y2="258.09"/>
<line x1="335.52" y1="140.17" x2="334.79" y2="258.46"/>
<line x1="335.84" y1="140.69" x2="335.1" y2="258.82"/>
<line x1="336.14" y1="141.22" x2="335.39" y2="259.19"/>
<line x1="336.43" y1="141.74" x2="335.68" y2="259.57"/>
<line x1="336.71" y1="142.27" x2="335.95" y2="259.94"/>
<line x1="336.98" y1="142.8" x2="336.21" y2="260.32"/>
<line x1="337.24" y1="143.33" x2="336.46" y2="260.7"/>
<line x1="337.48" y1="143.86" x2="336.69" y2="261.08"/>
<line x1="337.71" y1="144.39" x2="336.92" y2="261.46"/>
<line x1="337.93" y1="144.92" x2="337.13" y2="261.84"/>
<line x1="338.14" y1="145.45" x2="337.33" y2="262.23"/>
<line x1="338.33" y1="145.98" x2="337.51" y2="262.61"/>
<line x1="338.5" y1="146.51" x2="337.68" y2="262.99"/>
<line x1="338.66" y1="147.04" x2="337.84" y2="263.38"/>
<line x1="338.81" y1="147.57" x2="337.99" y2="263.76"/>
<line x1="338.95" y1="148.09" x2="338.12" y2="264.14"/>
<line x1="339.07" y1="148.62" x2="338.23" y2="264.52"/>
<line x1="339.17" y1="149.13" x2="338.33" y2="264.9"/>
<line x1="339.26" y1="149.65" x2="338.42" y2="265.28"/>
<line x1="339.34" y1="150.16" x2="338.5" y2="265.65"/>
<line x1="339.4" y1="150.67" x2="338.56" y2="266.02"/>
<line x1="339.45" y1="151.17" x2="338.61" y2="266.39"/>
<line x1="339.49" y1="151.66" x2="338.65" y2="266.75"/>
<line x1="339.51" y1="152.16" x2="338.67" y2="267.11"/>
<line x1="339.53" y1="152.64" x2="338.69" y2="267.47"/>
<line x1="339.53" y1="153.12" x2="338.69" y2="267.83"/>
<line x1="339.52" y1="153.6" x2="338.68" y2="268.18"/>
<line x1="339.5" y1="154.07" x2="338.66" y2="268.52"/>
<line x1="339.47" y1="154.54" x2="338.63" y2="268.87"/>
<line x1="339.42" y1="155" x2="338.59" y2="269.21"/>
<line x1="339.37" y1="155.46" x2="338.54" y2="269.55"/>
<line x1="339.31" y1="155.91" x2="338.48" y2="269.88"/>
<line x1="339.24" y1="156.36" x2="338.42" y2="270.22"/>
<line x1="339.16" y1="156.81" x2="338.34" y2="270.55"/>
<line x1="339.07" y1="157.26" x2="338.25" y2="270.88"/>
<line x1="338.98" y1="157.7" x2="338.16" y2="271.2"/>
<line x1="338.87" y1="158.15" x2="338.06" y2="271.53"/>
<line x1="338.75" y1="158.59" x2="337.95" y2="271.86"/>
<line x1="338.63" y1="159.03" x2="337.83" y2="272.18"/>
<line x1="338.5" y1="159.47" x2="337.7" y2="272.5"/>
<line x1="338.36" y1="159.91" x2="337.57" y2="272.83"/>
<line x1="338.21" y1="160.34" x2="337.42" y2="273.15"/>
<line x1="338.05" y1="160.78" x2="337.27" y2="273.47"/>
<line x1="337.89" y1="161.21" x2="337.11" y2="273.79"/>
<line x1="337.72" y1="161.65" x2="336.95" y2="274.11"/>
<line x1="337.54" y1="162.08" x2="336.77" y2="274.43"/>
<line x1="337.35" y1="162.52" x2="336.59" y2="274.75"/>
<line x1="337.15" y1="162.95" x2="336.4" y2="275.07"/>
<line x1="336.95" y1="163.39" x2="336.21" y2="275.39"/>
<line x1="336.74" y1="163.82" x2="336.01" y2="275.71"/>
<line x1="336.52" y1="164.26" x2="335.79" y2="276.03"/>
<line x1="336.3" y1="164.69" x2="335.58" y2="276.35"/>
<line x1="336.06" y1="165.13" x2="335.35" y2="276.66"/>
<line x1="335.82" y1="165.56" x2="335.12" y2="276.98"/>
<line x1="335.58" y1="166" x2="334.88" y2="277.3"/>
<line x1="335.32" y1="166.43" x2="334.64" y2="277.61"/>
<line x1="335.06" y1="166.87" x2="334.39" y2="277.93"/>
<line x1="334.8" y1="167.3" x2="334.13" y2="278.25"/>
<line x1="334.52" y1="167.74" x2="333.86" y2="278.56"/>
<line x1="334.24" y1="168.18" x2="333.59" y2="278.88"/>
<line x1="333.96" y1="168.61" x2="333.32" y2="279.19"/>
<line x1="333.66" y1="169.05" x2="333.03" y2="279.51"/>
<line x1="333.36" y1="169.48" x2="332.75" y2="279.82"/>
<line x1="333.06" y1="169.92" x2="332.45" y2="280.13"/>
<line x1="332.75" y1="170.36" x2="332.15" y2="280.45"/>
<line x1="332.44" y1="170.79" x2="331.85" y2="280.76"/>
<line x1="332.12" y1="171.23" x2="331.54" y2="281.07"/>
<line x1="331.79" y1="171.66" x2="331.22" y2="281.38"/>
<line x1="331.46" y1="172.1" x2="330.9" y2="281.69"/>
<line x1="331.12" y1="172.53" x2="330.58" y2="282"/>
<line x1="330.78" y1="172.97" x2="330.25" y2="282.31"/>
<line x1="330.44" y1="173.4" x2="329.92" y2="282.61"/>
<line x1="330.09" y1="173.84" x2="329.58" y2="282.92"/>
<line x1="329.74" y1="174.27" x2="329.24" y2="283.22"/>
<line x1="329.38" y1="174.71" x2="328.89" y2="283.53"/>
<line x1="329.02" y1="175.14" x2="328.54" y2="283.83"/>
<line x1="328.66" y1="175.58" x2="328.19" y2="284.13"/>
<line x1="328.29" y1="176.01" x2="327.83" y2="284.43"/>
<line x1="327.92" y1="176.44" x2="327.48" y2="284.73"/>
<line x1="327.54" y1="176.88" x2="327.11" y2="285.03"/>
<line x1="327.17" y1="177.31" x2="326.75" y2="285.33"/>
<line x1="326.79" y1="177.74" x2="326.38" y2="285.62"/>
<line x1="326.4" y1="178.17" x2="326.01" y2="285.92"/>
<line x1="326.02" y1="178.6" x2="325.64" y2="286.21"/>
<line x1="325.63" y1="179.03" x2="325.27" y2="286.5"/>
<line x1="325.24" y1="179.46" x2="324.89" y2="286.79"/>
<line x1="324.85" y1="179.89" x2="324.51" y2="287.08"/>
<line x1="324.46" y1="180.32" x2="324.13" y2="287.36"/>
<line x1="324.07" y1="180.74" x2="323.75" y2="287.65"/>
<line x1="323.67" y1="181.17" x2="323.37" y2="287.93"/>
<line x1="323.28" y1="181.59" x2="322.99" y2="288.21"/>
<line x1="322.88" y1="182.02" x2="322.6" y2="288.49"/>
<line x1="322.49" y1="182.44" x2="322.22" y2="288.77"/>
<line x1="322.09" y1="182.87" x2="321.83" y2="289.04"/>
<line x1="321.69" y1="183.29" x2="321.45" y2="289.32"/>
<line x1="321.29" y1="183.71" x2="321.06" y2="289.59"/>
<line x1="320.89" y1="184.13" x2="320.67" y2="289.86"/>
<line x1="320.49" y1="184.55" x2="320.29" y2="290.12"/>
<line x1="320.1" y1="184.96" x2="319.9" y2="290.39"/>
<line x1="319.7" y1="185.38" x2="319.52" y2="290.65"/>
<line x1="319.3" y1="185.8" x2="319.13" y2="290.91"/>
<line x1="318.91" y1="186.21" x2="318.75" y2="291.17"/>
<line x1="318.51" y1="186.62" x2="318.36" y2="291.43"/>
<line x1="318.12" y1="187.03" x2="317.98" y2="291.69"/>
<line x1="317.72" y1="187.45" x2="317.6" y2="291.94"/>
<line x1="317.33" y1="187.85" x2="317.22" y2="292.19"/>
<line x1="316.94" y1="188.26" x2="316.84" y2="292.44"/>
<line x1="316.55" y1="188.67" x2="316.46" y2="292.68"/>
<line x1="316.16" y1="189.07" x2="316.09" y2="292.93"/>
<line x1="315.78" y1="189.48" x2="315.71" y2="293.17"/>
<line x1="315.39" y1="189.88" x2="315.34" y2="293.41"/>
<line x1="315.01" y1="190.28" x2="314.97" y2="293.64"/>
<line x1="314.63" y1="190.68" x2="314.6" y2="293.88"/>
<line x1="314.25" y1="191.08" x2="314.24" y2="294.11"/>
<line x1="313.88" y1="191.48" x2="313.87" y2="294.34"/>
<line x1="313.5" y1="191.87" x2="313.51" y2="294.57"/>
<line x1="313.13" y1="192.26" x2="313.15" y2="294.79"/>
<line x1="312.77" y1="192.66" x2="312.79" y2="295.01"/>
<line x1="312.4" y1="193.05" x2="312.44" y2="295.23"/>
<line x1="312.04" y1="193.43" x2="312.09" y2="295.45"/>
<line x1="311.68" y1="193.82" x2="311.74" y2="295.66"/>
<line x1="311.32" y1="194.21" x2="311.39" y2="295.88"/>
<line x1="310.97" y1="194.59" x2="311.05" y2="296.09"/>
<line x1="310.62" y1="194.97" x2="310.71" y2="296.29"/>
<line x1="310.27" y1="195.35" x2="310.37" y2="296.5"/>
<line x1="309.93" y1="195.73" x2="310.03" y2="296.7"/>
<line x1="309.58" y1="196.11" x2="309.7" y2="296.9"/>
<line x1="309.25" y1="196.48" x2="309.37" y2="297.1"/>
<line x1="308.91" y1="196.85" x2="309.05" y2="297.29"/>
<line x1="308.58" y1="197.23" x2="308.73" y2="297.48"/>
<line x1="308.25" y1="197.6" x2="308.41" y2="297.67"/>
<line x1="307.93" y1="197.96" x2="308.09" y2="297.86"/>
<line x1="307.61" y1="198.33" x2="307.78" y2="298.04"/>
<line x1="307.29" y1="198.69" x2="307.47" y2="298.23"/>
<line x1="306.98" y1="199.05" x2="307.17" y2="298.4"/>
<line x1="306.67" y1="199.41" x2="306.87" y2="298.58"/>
<line x1="306.36" y1="199.77" x2="306.57" y2="298.76"/>
<line x1="306.06" y1="200.13" x2="306.28" y2="298.93"/>
<line x1="305.76" y1="200.48" x2="305.99" y2="299.1"/>
<line x1="305.47" y1="200.83" x2="305.7" y2="299.26"/>
<line x1="305.18" y1="201.18" x2="305.42" y2="299.43"/>
<line x1="304.89" y1="201.53" x2="305.14" y2="299.59"/>
<line x1="304.61" y1="201.87" x2="304.87" y2="299.75"/>
<line x1="304.34" y1="202.21" x2="304.6" y2="299.9"/>
<line x1="304.06" y1="202.55" x2="304.33" y2="300.06"/>
<line x1="303.79" y1="202.88" x2="304.07" y2="300.21"/>
<line x1="303.53" y1="203.21" x2="303.81" y2="300.35"/>
<line x1="303.27" y1="203.54" x2="303.56" y2="300.5"/>
<line x1="303.02" y1="203.87" x2="303.32" y2="300.64"/>
<line x1="302.77" y1="204.19" x2="303.07" y2="300.78"/>
<line x1="302.53" y1="204.5" x2="302.84" y2="300.91"/>
<line x1="302.29" y1="204.81" x2="302.61" y2="301.04"/>
<line x1="302.06" y1="205.12" x2="302.38" y2="301.17"/>
<line x1="301.84" y1="205.41" x2="302.16" y2="301.29"/>
<line x1="301.62" y1="205.71" x2="301.95" y2="301.41"/>
<line x1="301.41" y1="205.99" x2="301.74" y2="301.53"/>
<line x1="301.2" y1="206.27" x2="301.54" y2="301.64"/>
<line x1="301.01" y1="206.54" x2="301.35" y2="301.75"/>
<line x1="300.81" y1="206.81" x2="301.17" y2="301.86"/>
<line x1="300.63" y1="207.06" x2="300.99" y2="301.96"/>
<line x1="300.45" y1="207.31" x2="300.81" y2="302.05"/>
<line x1="300.28" y1="207.55" x2="300.65" y2="302.15"/>
<line x1="300.12" y1="207.79" x2="300.49" y2="302.24"/>
<line x1="299.96" y1="208.01" x2="300.33" y2="302.32"/>
<line x1="299.81" y1="208.23" x2="300.18" y2="302.41"/>
<line x1="299.66" y1="208.45" x2="300.04" y2="302.49"/>
<line x1="299.52" y1="208.66" x2="299.9" y2="302.56"/>
<line x1="299.38" y1="208.86" x2="299.77" y2="302.64"/>
<line x1="299.25" y1="209.06" x2="299.64" y2="302.71"/>
<line x1="299.12" y1="209.25" x2="299.51" y2="302.78"/>
<line x1="299" y1="209.44" x2="299.39" y2="302.85"/>
<line x1="298.88" y1="209.62" x2="299.27" y2="302.91"/>
<line x1="298.76" y1="209.8" x2="299.16" y2="302.98"/>
<line x1="298.64" y1="209.98" x2="299.05" y2="303.04"/>
<line x1="298.53" y1="210.15" x2="298.94" y2="303.1"/>
<line x1="298.42" y1="210.32" x2="298.83" y2="303.16"/>
<line x1="298.31" y1="210.49" x2="298.72" y2="303.22"/>
<line x1="298.21" y1="210.65" x2="298.62" y2="303.28"/>
<line x1="298.1" y1="210.81" x2="298.52" y2="303.33"/>
<line x1="298" y1="210.98" x2="298.42" y2="303.39"/>
<line x1="297.9" y1="211.13" x2="298.32" y2="303.44"/>
<line x1="297.81" y1="211.29" x2="298.23" y2="303.49"/>
<line x1="297.71" y1="211.45" x2="298.13" y2="303.54"/>
<line x1="297.62" y1="211.6" x2="298.04" y2="303.6"/>
<line x1="297.52" y1="211.75" x2="297.95" y2="303.65"/>
<line x1="297.43" y1="211.9" x2="297.86" y2="303.69"/>
<line x1="297.34" y1="212.05" x2="297.77" y2="303.74"/>
<line x1="297.25" y1="212.2" x2="297.68" y2="303.79"/>
<line x1="297.16" y1="212.35" x2="297.6" y2="303.84"/>
<line x1="297.08" y1="212.5" x2="297.51" y2="303.89"/>
<line x1="296.99" y1="212.64" x2="297.43" y2="303.93"/>
<line x1="296.9" y1="212.79" x2="297.34" y2="303.98"/>
<line x1="296.82" y1="212.93" x2="297.26" y2="304.02"/>
<line x1="296.74" y1="213.07" x2="297.18" y2="304.07"/>
<line x1="296.65" y1="213.22" x2="297.1" y2="304.11"/>
<line x1="296.57" y1="213.36" x2="297.02" y2="304.15"/>
<line x1="296.49" y1="213.5" x2="296.94" y2="304.2"/>
<line x1="296.41" y1="213.64" x2="296.86" y2="304.24"/>
<line x1="296.34" y1="213.78" x2="296.79" y2="304.28"/>
<line x1="296.26" y1="213.92" x2="296.71" y2="304.32"/>
<line x1="296.18" y1="214.05" x2="296.64" y2="304.36"/>
<line x1="296.1" y1="214.19" x2="296.56" y2="304.4"/>
<line x1="296.03" y1="214.33" x2="296.49" y2="304.44"/>
<line x1="295.95" y1="214.47" x2="296.41" y2="304.48"/>
<line x1="295.88" y1="214.6" x2="296.34" y2="304.52"/>
<line x1="295.81" y1="214.74" x2="296.27" y2="304.56"/>
<line x1="295.73" y1="214.87" x2="296.2" y2="304.6"/>
<line x1="295.66" y1="215" x2="296.13" y2="304.64"/>
<line x1="295.59" y1="215.14" x2="296.06" y2="304.68"/>
<line x1="295.52" y1="215.27" x2="295.99" y2="304.71"/>
<line x1="295.45" y1="215.4" x2="295.92" y2="304.75"/>
<line x1="295.38" y1="215.54" x2="295.85" y2="304.79"/>
<line x1="295.31" y1="215.67" x2="295.78" y2="304.82"/>
<line x1="295.24" y1="215.8" x2="295.72" y2="304.86"/>
<line x1="295.18" y1="215.93" x2="295.65" y2="304.89"/>
<line x1="295.11" y1="216.06" x2="295.59" y2="304.93"/>
<line x1="295.04" y1="216.19" x2="295.52" y2="304.96"/>
<line x1="294.98" y1="216.32" x2="295.46" y2="305"/>
<line x1="294.91" y1="216.45" x2="295.39" y2="305.03"/>
<line x1="294.85" y1="216.58" x2="295.33" y2="305.07"/>
<line x1="294.79" y1="216.7" x2="295.27" y2="305.1"/>
<line x1="294.72" y1="216.83" x2="295.21" y2="305.13"/>
<line x1="294.66" y1="216.96" x2="295.15" y2="305.16"/>
<line x1="294.6" y1="217.08" x2="295.08" y2="305.2"/>
<line x1="294.54" y1="217.21" x2="295.02" y2="305.23"/>
<line x1="294.48" y1="217.34" x2="294.96" y2="305.26"/>
<line x1="294.42" y1="217.46" x2="294.91" y2="305.29"/>
<line x1="294.36" y1="217.59" x2="294.85" y2="305.32"/>
<line x1="294.3" y1="217.71" x2="294.79" y2="305.35"/>
<line x1="294.24" y1="217.83" x2="294.73" y2="305.38"/>
<line x1="294.18" y1="217.96" x2="294.67" y2="305.41"/>
<line x1="294.13" y1="218.08" x2="294.62" y2="305.44"/>
<line x1="294.07" y1="218.2" x2="294.56" y2="305.47"/>
<line x1="294.01" y1="218.33" x2="294.51" y2="305.5"/>
<line x1="293.96" y1="218.45" x2="294.45" y2="305.53"/>
<line x1="293.9" y1="218.57" x2="294.4" y2="305.56"/>
<line x1="293.85" y1="218.69" x2="294.34" y2="305.59"/>
<line x1="293.79" y1="218.81" x2="294.29" y2="305.62"/>
<line x1="293.74" y1="218.93" x2="294.24" y2="305.64"/>
<line x1="293.69" y1="219.05" x2="294.19" y2="305.67"/>
<line x1="293.63" y1="219.17" x2="294.13" y2="305.7"/>
<line x1="293.58" y1="219.29" x2="294.08" y2="305.72"/>
<line x1="293.53" y1="219.41" x2="294.03" y2="305.75"/>
<line x1="293.48" y1="219.52" x2="293.98" y2="305.78"/>
<line x1="293.43" y1="219.64" x2="293.93" y2="305.8"/>
<line x1="293.38" y1="219.76" x2="293.88" y2="305.83"/>
<line x1="293.33" y1="219.88" x2="293.83" y2="305.86"/>
<line x1="293.28" y1="219.99" x2="293.79" y2="305.88"/>
<line x1="293.23" y1="220.11" x2="293.74" y2="305.91"/>
<line x1="293.18" y1="220.22" x2="293.69" y2="305.93"/>
<line x1="293.14" y1="220.34" x2="293.64" y2="305.95"/>
<line x1="293.09" y1="220.45" x2="293.6" y2="305.98"/>
<line x1="293.04" y1="220.57" x2="293.55" y2="306"/>
<line x1="293" y1="220.68" x2="293.51" y2="306.03"/>
<line x1="292.95" y1="220.79" x2="293.46" y2="306.05"/>
<line x1="292.9" y1="220.91" x2="293.42" y2="306.07"/>
<line x1="292.86" y1="221.02" x2="293.37" y2="306.1"/>
<line x1="292.81" y1="221.13" x2="293.33" y2="306.12"/>
<line x1="292.77" y1="221.24" x2="293.28" y2="306.14"/>
<line x1="292.73" y1="221.35" x2="293.24" y2="306.16"/>
<line x1="292.68" y1="221.46" x2="293.2" y2="306.18"/>
<line x1="292.64" y1="221.58" x2="293.15" y2="306.21"/>
<line x1="292.6" y1="221.69" x2="293.11" y2="306.23"/>
<line x1="292.56" y1="221.8" x2="293.07" y2="306.25"/>
<line x1="292.51" y1="221.9" x2="293.03" y2="306.27"/>
<line x1="292.47" y1="222.01" x2="292.99" y2="306.29"/>
<line x1="292.43" y1="222.12" x2="292.95" y2="306.31"/>
<line x1="292.39" y1="222.23" x2="292.91" y2="306.33"/>
<line x1="292.35" y1="222.34" x2="292.87" y2="306.35"/>
<line x1="292.31" y1="222.44" x2="292.83" y2="306.37"/>
<line x1="292.27" y1="222.55" x2="292.79" y2="306.39"/>
<line x1="292.23" y1="222.66" x2="292.75" y2="306.41"/>
<line x1="292.2" y1="222.76" x2="292.72" y2="306.43"/>
<line x1="292.16" y1="222.87" x2="292.68" y2="306.45"/>
<line x1="292.12" y1="222.97" x2="292.64" y2="306.47"/>
<line x1="292.08" y1="223.08" x2="292.6" y2="306.49"/>
<line x1="292.05" y1="223.18" x2="292.57" y2="306.51"/>
<line x1="292.01" y1="223.29" x2="292.53" y2="306.52"/>
<line x1="291.97" y1="223.39" x2="292.49" y2="306.54"/>
<line x1="291.94" y1="223.5" x2="292.46" y2="306.56"/>
<line x1="291.9" y1="223.6" x2="292.42" y2="306.58"/>
<line x1="291.87" y1="223.7" x2="292.39" y2="306.6"/>
<line x1="291.83" y1="223.8" x2="292.35" y2="306.61"/>
<line x1="291.8" y1="223.9" x2="292.32" y2="306.63"/>
<line x1="291.76" y1="224.01" x2="292.29" y2="306.65"/>
<line x1="291.73" y1="224.11" x2="292.25" y2="306.66"/>
<line x1="291.7" y1="224.21" x2="292.22" y2="306.68"/>
<line x1="291.66" y1="224.31" x2="292.19" y2="306.7"/>
<line x1="291.63" y1="224.41" x2="292.15" y2="306.71"/>
<line x1="291.6" y1="224.51" x2="292.12" y2="306.73"/>
<line x1="291.56" y1="224.61" x2="292.09" y2="306.74"/>
<line x1="291.53" y1="224.7" x2="292.06" y2="306.76"/>
<line x1="291.5" y1="224.8" x2="292.03" y2="306.78"/>
<line x1="291.47" y1="224.9" x2="292" y2="306.79"/>
<line x1="291.44" y1="225" x2="291.97" y2="306.81"/>
<line x1="291.41" y1="225.09" x2="291.93" y2="306.82"/>
<line x1="291.38" y1="225.19" x2="291.9" y2="306.84"/>
<line x1="291.35" y1="225.29" x2="291.87" y2="306.85"/>
<line x1="291.32" y1="225.38" x2="291.85" y2="306.87"/>
<line x1="291.29" y1="225.48" x2="291.82" y2="306.88"/>
<line x1="291.26" y1="225.57" x2="291.79" y2="306.89"/>
<line x1="291.23" y1="225.67" x2="291.76" y2="306.91"/>
<line x1="291.2" y1="225.76" x2="291.73" y2="306.92"/>
<line x1="291.17" y1="225.86" x2="291.7" y2="306.94"/>
<line x1="291.15" y1="225.95" x2="291.67" y2="306.95"/>
<line x1="291.12" y1="226.04" x2="291.65" y2="306.96"/>
<line x1="291.09" y1="226.14" x2="291.62" y2="306.98"/>
<line x1="291.06" y1="226.23" x2="291.59" y2="306.99"/>
<line x1="291.04" y1="226.32" x2="291.57" y2="307"/>
<line x1="291.01" y1="226.41" x2="291.54" y2="307.01"/>
<line x1="290.98" y1="226.5" x2="291.51" y2="307.03"/>
<line x1="290.96" y1="226.59" x2="291.49" y2="307.04"/>
<line x1="290.93" y1="226.68" x2="291.46" y2="307.05"/>
<line x1="290.91" y1="226.77" x2="291.44" y2="307.06"/>
<line x1="290.88" y1="226.86" x2="291.41" y2="307.08"/>
<line x1="290.86" y1="226.95" x2="291.39" y2="307.09"/>
<line x1="290.83" y1="227.04" x2="291.36" y2="307.1"/>
<line x1="290.81" y1="227.13" x2="291.34" y2="307.11"/>
<line x1="290.78" y1="227.22" x2="291.31" y2="307.12"/>
<line x1="290.76" y1="227.31" x2="291.29" y2="307.13"/>
<line x1="290.74" y1="227.4" x2="291.26" y2="307.15"/>
<line x1="290.71" y1="227.48" x2="291.24" y2="307.16"/>
<line x1="290.69" y1="227.57" x2="291.22" y2="307.17"/>
<line x1="290.67" y1="227.66" x2="291.19" y2="307.18"/>
<line x1="290.64" y1="227.74" x2="291.17" y2="307.19"/>
<line x1="290.62" y1="227.83" x2="291.15" y2="307.2"/>
<line x1="290.6" y1="227.91" x2="291.13" y2="307.21"/>
<line x1="290.58" y1="228" x2="291.11" y2="307.22"/>
<line x1="290.55" y1="228.08" x2="291.08" y2="307.23"/>
<line x1="290.53" y1="228.17" x2="291.06" y2="307.24"/>
<line x1="290.51" y1="228.25" x2="291.04" y2="307.25"/>
<line x1="290.49" y1="228.33" x2="291.02" y2="307.26"/>
<line x1="290.47" y1="228.42" x2="291" y2="307.27"/>
<line x1="290.45" y1="228.5" x2="290.98" y2="307.28"/>
<line x1="290.43" y1="228.58" x2="290.96" y2="307.29"/>
<line x1="290.41" y1="228.66" x2="290.94" y2="307.3"/>
<line x1="290.39" y1="228.74" x2="290.92" y2="307.31"/>
<line x1="290.37" y1="228.82" x2="290.9" y2="307.32"/>
<line x1="290.35" y1="228.91" x2="290.88" y2="307.33"/>
<line x1="290.33" y1="228.99" x2="290.86" y2="307.34"/>
<line x1="290.31" y1="229.07" x2="290.84" y2="307.35"/>
<line x1="290.29" y1="229.15" x2="290.82" y2="307.35"/>
<line x1="290.27" y1="229.22" x2="290.8" y2="307.36"/>
<line x1="290.25" y1="229.3" x2="290.78" y2="307.37"/>
<line x1="290.23" y1="229.38" x2="290.76" y2="307.38"/>
<line x1="290.21" y1="229.46" x2="290.74" y2="307.39"/>
<line x1="290.19" y1="229.54" x2="290.72" y2="307.4"/>
<line x1="290.18" y1="229.62" x2="290.71" y2="307.41"/>
<line x1="290.16" y1="229.69" x2="290.69" y2="307.41"/>
<line x1="290.14" y1="229.77" x2="290.67" y2="307.42"/>
<line x1="290.12" y1="229.85" x2="290.65" y2="307.43"/>
<line x1="290.11" y1="229.92" x2="290.63" y2="307.44"/>
<line x1="290.09" y1="230" x2="290.62" y2="307.45"/>
<line x1="290.07" y1="230.07" x2="290.6" y2="307.45"/>
<line x1="290.05" y1="230.15" x2="290.58" y2="307.46"/>
<line x1="290.04" y1="230.22" x2="290.57" y2="307.47"/>
<line x1="290.02" y1="230.3" x2="290.55" y2="307.48"/>
<line x1="290.01" y1="230.37" x2="290.53" y2="307.48"/>
<line x1="289.99" y1="230.44" x2="290.52" y2="307.49"/>
<line x1="289.97" y1="230.51" x2="290.5" y2="307.5"/>
<line x1="289.96" y1="230.59" x2="290.49" y2="307.51"/>
<line x1="289.94" y1="230.66" x2="290.47" y2="307.51"/>
<line x1="289.93" y1="230.73" x2="290.45" y2="307.52"/>
<line x1="289.91" y1="230.8" x2="290.44" y2="307.53"/>
<line x1="289.9" y1="230.87" x2="290.42" y2="307.53"/>
<line x1="289.88" y1="230.94" x2="290.41" y2="307.54"/>
<line x1="289.87" y1="231.02" x2="290.39" y2="307.55"/>
<line x1="289.85" y1="231.09" x2="290.38" y2="307.55"/>
<line x1="289.84" y1="231.15" x2="290.36" y2="307.56"/>
<line x1="289.82" y1="231.22" x2="290.35" y2="307.57"/>
<line x1="289.81" y1="231.29" x2="290.34" y2="307.57"/>
<line x1="289.79" y1="231.36" x2="290.32" y2="307.58"/>
<line x1="289.78" y1="231.43" x2="290.31" y2="307.58"/>
<line x1="289.77" y1="231.5" x2="290.29" y2="307.59"/>
<line x1="289.75" y1="231.56" x2="290.28" y2="307.6"/>
<line x1="289.74" y1="231.63" x2="290.27" y2="307.6"/>
<line x1="289.72" y1="231.7" x2="290.25" y2="307.61"/>
<line x1="289.71" y1="231.76" x2="290.24" y2="307.61"/>
<line x1="289.7" y1="231.83" x2="290.23" y2="307.62"/>
<line x1="289.69" y1="231.9" x2="290.21" y2="307.62"/>
<line x1="289.67" y1="231.96" x2="290.2" y2="307.63"/>
<line x1="289.66" y1="232.03" x2="290.19" y2="307.64"/>
<line x1="289.65" y1="232.09" x2="290.17" y2="307.64"/>
<line x1="289.63" y1="232.15" x2="290.16" y2="307.65"/>
<line x1="289.62" y1="232.22" x2="290.15" y2="307.65"/>
<line x1="289.61" y1="232.28" x2="290.14" y2="307.66"/>
<line x1="289.6" y1="232.34" x2="290.12" y2="307.66"/>
<line x1="289.59" y1="232.41" x2="290.11" y2="307.67"/>
<line x1="289.57" y1="232.47" x2="290.1" y2="307.67"/>
<line x1="289.56" y1="232.53" x2="290.09" y2="307.68"/>
<line x1="289.55" y1="232.59" x2="290.08" y2="307.68"/>
<line x1="289.54" y1="232.65" x2="290.06" y2="307.69"/>
<line x1="289.53" y1="232.71" x2="290.05" y2="307.69"/>
<line x1="289.52" y1="232.77" x2="290.04" y2="307.7"/>
<line x1="289.51" y1="232.83" x2="290.03" y2="307.7"/>
<line x1="289.49" y1="232.89" x2="290.02" y2="307.71"/>
<line x1="289.48" y1="232.95" x2="290.01" y2="307.71"/>
<line x1="289.47" y1="233.01" x2="290" y2="307.72"/>
<line x1="289.46" y1="233.07" x2="289.99" y2="307.72"/>
<line x1="289.45" y1="233.13" x2="289.98" y2="307.73"/>
<line x1="289.44" y1="233.19" x2="289.96" y2="307.73"/>
<line x1="289.43" y1="233.24" x2="289.95" y2="307.73"/>
<line x1="289.42" y1="233.3" x2="289.94" y2="307.74"/>
<line x1="289.41" y1="233.36" x2="289.93" y2="307.74"/>
<line x1="289.4" y1="233.41" x2="289.92" y2="307.75"/>
<line x1="289.39" y1="233.47" x2="289.91" y2="307.75"/>
<line x1="289.38" y1="233.53" x2="289.9" y2="307.75"/>
<line x1="289.37" y1="233.58" x2="289.89" y2="307.76"/>
<line x1="289.36" y1="233.64" x2="289.88" y2="307.76"/>
<line x1="289.35" y1="233.69" x2="289.87" y2="307.77"/>
<line x1="289.34" y1="233.74" x2="289.86" y2="307.77"/>
<line x1="289.33" y1="233.8" x2="289.85" y2="307.77"/>
<line x1="289.32" y1="233.85" x2="289.85" y2="307.78"/>
<line x1="289.31" y1="233.9" x2="289.84" y2="307.78"/>
<line x1="289.3" y1="233.96" x2="289.83" y2="307.79"/>
<line x1="289.3" y1="234.01" x2="289.82" y2="307.79"/>
<line x1="289.29" y1="234.06" x2="289.81" y2="307.79"/>
<line x1="289.28" y1="234.11" x2="289.8" y2="307.8"/>
<line x1="289.27" y1="234.16" x2="289.79" y2="307.8"/>
<line x1="289.26" y1="234.21" x2="289.78" y2="307.8"/>
<line x1="289.25" y1="234.26" x2="289.77" y2="307.81"/>
<line x1="289.24" y1="234.31" x2="289.76" y2="307.81"/>
<line x1="289.24" y1="234.36" x2="289.76" y2="307.81"/>
<line x1="289.23" y1="234.41" x2="289.75" y2="307.82"/>
<line x1="289.22" y1="234.46" x2="289.74" y2="307.82"/>
<line x1="289.21" y1="234.51" x2="289.73" y2="307.82"/>
<line x1="289.2" y1="234.56" x2="289.72" y2="307.83"/>
<line x1="289.19" y1="234.61" x2="289.72" y2="307.83"/>
<line x1="289.19" y1="234.65" x2="289.71" y2="307.83"/>
<line x1="289.18" y1="234.7" x2="289.7" y2="307.84"/>
<line x1="289.17" y1="234.75" x2="289.69" y2="307.84"/>
<line x1="289.16" y1="234.79" x2="289.68" y2="307.84"/>
<line x1="289.16" y1="234.84" x2="289.68" y2="307.85"/>
<line x1="289.15" y1="234.89" x2="289.67" y2="307.85"/>
<line x1="289.14" y1="234.93" x2="289.66" y2="307.85"/>
<line x1="289.13" y1="234.97" x2="289.65" y2="307.85"/>
<line x1="289.13" y1="235.02" x2="289.65" y2="307.86"/>
<line x1="289.12" y1="235.06" x2="289.64" y2="307.86"/>
<line x1="289.11" y1="235.11" x2="289.63" y2="307.86"/>
<line x1="289.11" y1="235.15" x2="289.62" y2="307.87"/>
<line x1="289.1" y1="235.19" x2="289.62" y2="307.87"/>
<line x1="289.09" y1="235.24" x2="289.61" y2="307.87"/>
<line x1="289.09" y1="235.28" x2="289.6" y2="307.87"/>
<line x1="289.08" y1="235.32" x2="289.6" y2="307.88"/>
<line x1="289.07" y1="235.36" x2="289.59" y2="307.88"/>
<line x1="289.07" y1="235.4" x2="289.58" y2="307.88"/>
<line x1="289.06" y1="235.44" x2="289.58" y2="307.88"/>
<line x1="289.05" y1="235.48" x2="289.57" y2="307.89"/>
<line x1="289.05" y1="235.52" x2="289.56" y2="307.89"/>
<line x1="289.04" y1="235.56" x2="289.56" y2="307.89"/>
<line x1="289.03" y1="235.6" x2="289.55" y2="307.89"/>
<line x1="289.03" y1="235.64" x2="289.54" y2="307.9"/>
<line x1="289.02" y1="235.68" x2="289.54" y2="307.9"/>
<line x1="289.01" y1="235.72" x2="289.53" y2="307.9"/>
<line x1="289.01" y1="235.75" x2="289.53" y2="307.9"/>
<line x1="289" y1="235.79" x2="289.52" y2="307.91"/>
<line x1="289" y1="235.83" x2="289.51" y2="307.91"/>
<line x1="288.99" y1="235.86" x2="289.51" y2="307.91"/>
<line x1="288.99" y1="235.9" x2="289.5" y2="307.91"/>
<line x1="288.98" y1="235.93" x2="289.5" y2="307.91"/>
<line x1="288.97" y1="235.97" x2="289.49" y2="307.92"/>
<line x1="288.97" y1="236" x2="289.48" y2="307.92"/>
<line x1="288.96" y1="236.04" x2="289.48" y2="307.92"/>
<line x1="288.96" y1="236.07" x2="289.47" y2="307.92"/>
<line x1="288.95" y1="236.11" x2="289.47" y2="307.92"/>
<line x1="288.95" y1="236.14" x2="289.46" y2="307.93"/>
<line x1="288.94" y1="236.17" x2="289.46" y2="307.93"/>
<line x1="288.94" y1="236.21" x2="289.45" y2="307.93"/>
<line x1="288.93" y1="236.24" x2="289.45" y2="307.93"/>
<line x1="288.93" y1="236.27" x2="289.44" y2="307.93"/>
<line x1="288.92" y1="236.3" x2="289.44" y2="307.94"/>
<line x1="288.92" y1="236.33" x2="289.43" y2="307.94"/>
<line x1="288.91" y1="236.36" x2="289.43" y2="307.94"/>
<line x1="288.91" y1="236.39" x2="289.42" y2="307.94"/>
<line x1="288.9" y1="236.42" x2="289.42" y2="307.94"/>
<line x1="288.9" y1="236.45" x2="289.41" y2="307.95"/>
<line x1="288.89" y1="236.48" x2="289.41" y2="307.95"/>
<line x1="288.89" y1="236.51" x2="289.4" y2="307.95"/>
<line x1="288.88" y1="236.54" x2="289.4" y2="307.95"/>
<line x1="288.88" y1="236.57" x2="289.39" y2="307.95"/>
<line x1="288.87" y1="236.59" x2="289.39" y2="307.95"/>
<line x1="288.87" y1="236.62" x2="289.38" y2="307.96"/>
<line x1="288.86" y1="236.65" x2="289.38" y2="307.96"/>
<line x1="288.86" y1="236.67" x2="289.37" y2="307.96"/>
<line x1="288.85" y1="236.7" x2="289.37" y2="307.96"/>
<line x1="288.85" y1="236.73" x2="289.36" y2="307.96"/>
<line x1="288.85" y1="236.75" x2="289.36" y2="307.96"/>
<line x1="288.84" y1="236.78" x2="289.35" y2="307.96"/>
<line x1="288.84" y1="236.8" x2="289.35" y2="307.97"/>
<line x1="288.83" y1="236.82" x2="289.35" y2="307.97"/>
<line x1="288.83" y1="236.85" x2="289.34" y2="307.97"/>
<line x1="288.82" y1="236.87" x2="289.34" y2="307.97"/>
<line x1="288.82" y1="236.89" x2="289.33" y2="307.97"/>
<line x1="288.82" y1="236.92" x2="289.33" y2="307.97"/>
<line x1="288.81" y1="236.94" x2="289.33" y2="307.97"/>
<line x1="288.81" y1="236.96" x2="289.32" y2="307.98"/>
<line x1="288.8" y1="236.98" x2="289.32" y2="307.98"/>
<line x1="288.8" y1="237" x2="289.31" y2="307.98"/>
<line x1="288.8" y1="237.02" x2="289.31" y2="307.98"/>
<line x1="288.79" y1="237.04" x2="289.31" y2="307.98"/>
<line x1="288.79" y1="237.06" x2="289.3" y2="307.98"/>
<line x1="288.79" y1="237.08" x2="289.3" y2="307.98"/>
<line x1="288.78" y1="237.1" x2="289.29" y2="307.99"/>
<line x1="288.78" y1="237.12" x2="289.29" y2="307.99"/>
<line x1="288.78" y1="237.14" x2="289.29" y2="307.99"/>
<line x1="288.77" y1="237.15" x2="289.28" y2="307.99"/>
<line x1="288.77" y1="237.17" x2="289.28" y2="307.99"/>
<line x1="288.76" y1="237.19" x2="289.28" y2="307.99"/>
<line x1="288.76" y1="237.21" x2="289.27" y2="307.99"/>
<line x1="288.76" y1="237.22" x2="289.27" y2="307.99"/>
<line x1="288.75" y1="237.24" x2="289.27" y2="308"/>
<line x1="288.75" y1="237.25" x2="289.26" y2="308"/>
<line x1="288.75" y1="237.27" x2="289.26" y2="308"/>
<line x1="288.74" y1="237.28" x2="289.26" y2="308"/>
<line x1="288.74" y1="237.3" x2="289.25" y2="308"/>
<line x1="288.74" y1="237.31" x2="289.25" y2="308"/>
<line x1="288.73" y1="237.32" x2="289.25" y2="308"/>
<line x1="288.73" y1="237.34" x2="289.24" y2="308"/>
<line x1="288.73" y1="237.35" x2="289.24" y2="308"/>
<line x1="288.73" y1="237.36" x2="289.24" y2="308"/>
<line x1="288.72" y1="237.37" x2="289.23" y2="308.01"/>
<line x1="288.72" y1="237.38" x2="289.23" y2="308.01"/>
<line x1="288.72" y1="237.39" x2="289.23" y2="308.01"/>
<line x1="288.72" y1="237.4" x2="289.23" y2="308.01"/>
<line x1="288.72" y1="237.41" x2="289.23" y2="308.01"/>
<line x1="288.72" y1="237.42" x2="289.23" y2="308.01"/>
<line x1="288.72" y1="237.43" x2="289.23" y2="308.01"/>
<line x1="288.72" y1="237.44" x2="289.23" y2="308.01"/>
<line x1="288.72" y1="237.45" x2="289.23" y2="308.01"/>
</g>
<polyline points="322.35,124.67 323.33,125.75 324.39,126.84 325.46,127.95 326.54,129.08 327.62,130.22 328.68,131.37 329.73,132.54 330.76,133.73 331.76,134.93 332.72,136.14 333.64,137.36 334.51,138.6 335.33,139.86 336.09,141.12 336.78,142.4 337.41,143.7 337.96,145 338.44,146.32 338.83,147.65 339.14,148.99 339.36,150.35 339.49,151.72 339.53,153.09 339.47,154.48 339.32,155.88 339.07,157.29 338.72,158.7 338.28,160.13 337.75,161.56 337.13,163 336.42,164.45 335.63,165.9 334.77,167.35 333.82,168.81 332.81,170.27 331.74,171.73 330.61,173.19 329.43,174.64 328.21,176.1 326.96,177.55 325.67,178.99 324.36,180.43 323.04,181.85 321.7,183.27 320.37,184.68 319.04,186.07 317.71,187.45 316.41,188.82 315.12,190.17 313.85,191.5 312.61,192.82 311.4,194.12 310.22,195.4 309.08,196.66 307.98,197.9 306.92,199.13 305.89,200.33 304.91,201.51 303.97,202.66 303.07,203.8 302.21,204.92 301.39,206.01 300.62,207.08 299.88,208.13 299.18,209.16 298.51,210.17 297.89,211.16 297.3,212.13 296.74,213.07 296.21,214 295.72,214.9 295.25,215.79 294.81,216.66 294.4,217.5 294.01,218.33 293.65,219.14 293.31,219.92 292.99,220.69 292.69,221.45 292.41,222.18 292.15,222.89 291.9,223.59 291.67,224.27 291.46,224.93 291.26,225.58 291.07,226.21 290.9,226.82 290.73,227.41 290.58,227.99 290.43,228.55 290.3,229.09 290.18,229.61 290.06,230.12 289.95,230.62 289.85,231.09 289.75,231.55 289.67,231.99 289.58,232.42 289.51,232.83 289.43,233.22 289.37,233.6 289.3,233.96 289.25,234.3 289.19,234.63 289.14,234.94 289.09,235.23 289.05,235.5 289.01,235.76 288.97,236 288.93,236.23 288.9,236.43 288.87,236.62 288.84,236.79 288.81,236.95 288.79,237.08 288.76,237.2 288.74,237.3 288.72,237.39 288.72,237.45" fill="none" stroke="#000" stroke-width="1.15" stroke-linejoin="round"/>
<text x="209.7" y="273.6" font-size="8.3" text-anchor="end">0.00</text>
<text x="208.3" y="244.7" font-size="8.3" text-anchor="end">0.05</text>
<text x="208.2" y="214.5" font-size="8.3" text-anchor="end">0.10</text>
<text x="206.5" y="184.7" font-size="8.3" text-anchor="end">0.15</text>
<text x="206.5" y="154.9" font-size="8.3" text-anchor="end">0.20</text>
<line x1="212.4" y1="269.18" x2="216.04" y2="268.49" stroke="#707070" stroke-width="0.6"/>
<line x1="212.23" y1="263.47" x2="214.17" y2="263.11" stroke="#707070" stroke-width="0.6"/>
<line x1="212.06" y1="257.74" x2="214.01" y2="257.39" stroke="#707070" stroke-width="0.6"/>
<line x1="211.89" y1="251.99" x2="213.84" y2="251.65" stroke="#707070" stroke-width="0.6"/>
<line x1="211.71" y1="246.23" x2="213.67" y2="245.89" stroke="#707070" stroke-width="0.6"/>
<line x1="211.54" y1="240.44" x2="215.22" y2="239.84" stroke="#707070" stroke-width="0.6"/>
<line x1="211.37" y1="234.63" x2="213.34" y2="234.32" stroke="#707070" stroke-width="0.6"/>
<line x1="211.2" y1="228.81" x2="213.17" y2="228.5" stroke="#707070" stroke-width="0.6"/>
<line x1="211.02" y1="222.96" x2="213" y2="222.67" stroke="#707070" stroke-width="0.6"/>
<line x1="210.85" y1="217.1" x2="212.83" y2="216.81" stroke="#707070" stroke-width="0.6"/>
<line x1="210.67" y1="211.21" x2="214.38" y2="210.7" stroke="#707070" stroke-width="0.6"/>
<line x1="210.5" y1="205.3" x2="212.48" y2="205.04" stroke="#707070" stroke-width="0.6"/>
<line x1="210.32" y1="199.38" x2="212.31" y2="199.13" stroke="#707070" stroke-width="0.6"/>
<line x1="210.15" y1="193.43" x2="212.14" y2="193.19" stroke="#707070" stroke-width="0.6"/>
<line x1="209.97" y1="187.47" x2="211.97" y2="187.24" stroke="#707070" stroke-width="0.6"/>
<line x1="209.79" y1="181.48" x2="213.54" y2="181.07" stroke="#707070" stroke-width="0.6"/>
<line x1="209.61" y1="175.47" x2="211.62" y2="175.26" stroke="#707070" stroke-width="0.6"/>
<line x1="209.43" y1="169.44" x2="211.44" y2="169.25" stroke="#707070" stroke-width="0.6"/>
<line x1="209.26" y1="163.4" x2="211.27" y2="163.21" stroke="#707070" stroke-width="0.6"/>
<line x1="209.07" y1="157.33" x2="211.09" y2="157.15" stroke="#707070" stroke-width="0.6"/>
<line x1="208.89" y1="151.24" x2="212.67" y2="150.92" stroke="#707070" stroke-width="0.6"/>
<line x1="208.71" y1="145.12" x2="210.73" y2="144.97" stroke="#707070" stroke-width="0.6"/>
<line x1="208.53" y1="138.99" x2="210.56" y2="138.85" stroke="#707070" stroke-width="0.6"/>
<line x1="208.35" y1="132.84" x2="210.38" y2="132.7" stroke="#707070" stroke-width="0.6"/>
<line x1="214.49" y1="270.24" x2="214.43" y2="268.12" stroke="#707070" stroke-width="0.6"/>
<line x1="217.11" y1="271.56" x2="217.01" y2="268.1" stroke="#707070" stroke-width="0.6"/>
<line x1="219.77" y1="272.9" x2="219.71" y2="270.76" stroke="#707070" stroke-width="0.6"/>
<line x1="222.46" y1="274.26" x2="222.4" y2="272.11" stroke="#707070" stroke-width="0.6"/>
<line x1="225.18" y1="275.64" x2="225.12" y2="273.47" stroke="#707070" stroke-width="0.6"/>
<line x1="227.94" y1="277.03" x2="227.89" y2="274.85" stroke="#707070" stroke-width="0.6"/>
<line x1="230.74" y1="278.45" x2="230.65" y2="274.88" stroke="#707070" stroke-width="0.6"/>
<line x1="233.57" y1="279.88" x2="233.52" y2="277.67" stroke="#707070" stroke-width="0.6"/>
<line x1="236.44" y1="281.33" x2="236.39" y2="279.11" stroke="#707070" stroke-width="0.6"/>
<line x1="239.35" y1="282.8" x2="239.3" y2="280.56" stroke="#707070" stroke-width="0.6"/>
<line x1="242.3" y1="284.29" x2="242.25" y2="282.04" stroke="#707070" stroke-width="0.6"/>
<line x1="245.28" y1="285.8" x2="245.21" y2="282.11" stroke="#707070" stroke-width="0.6"/>
<line x1="248.31" y1="287.33" x2="248.27" y2="285.05" stroke="#707070" stroke-width="0.6"/>
<line x1="251.38" y1="288.88" x2="251.34" y2="286.58" stroke="#707070" stroke-width="0.6"/>
<line x1="254.49" y1="290.45" x2="254.45" y2="288.14" stroke="#707070" stroke-width="0.6"/>
<line x1="257.65" y1="292.05" x2="257.61" y2="289.72" stroke="#707070" stroke-width="0.6"/>
<line x1="260.85" y1="293.66" x2="260.79" y2="289.86" stroke="#707070" stroke-width="0.6"/>
<line x1="264.09" y1="295.3" x2="264.05" y2="292.95" stroke="#707070" stroke-width="0.6"/>
<line x1="267.38" y1="296.96" x2="267.35" y2="294.59" stroke="#707070" stroke-width="0.6"/>
<line x1="270.71" y1="298.65" x2="270.68" y2="296.26" stroke="#707070" stroke-width="0.6"/>
<line x1="274.1" y1="300.36" x2="274.07" y2="297.96" stroke="#707070" stroke-width="0.6"/>
<line x1="277.53" y1="302.09" x2="277.49" y2="298.16" stroke="#707070" stroke-width="0.6"/>
<line x1="281.02" y1="303.86" x2="280.99" y2="301.42" stroke="#707070" stroke-width="0.6"/>
<line x1="284.55" y1="305.64" x2="284.53" y2="303.19" stroke="#707070" stroke-width="0.6"/>
<line x1="288.14" y1="307.45" x2="288.12" y2="304.98" stroke="#707070" stroke-width="0.6"/>
<line x1="406.54" y1="279.61" x2="406.6" y2="277.4" stroke="#707070" stroke-width="0.6"/>
<line x1="400.77" y1="281.01" x2="400.82" y2="278.79" stroke="#707070" stroke-width="0.6"/>
<line x1="394.92" y1="282.43" x2="395" y2="278.79" stroke="#707070" stroke-width="0.6"/>
<line x1="388.99" y1="283.86" x2="389.04" y2="281.61" stroke="#707070" stroke-width="0.6"/>
<line x1="382.99" y1="285.31" x2="383.04" y2="283.05" stroke="#707070" stroke-width="0.6"/>
<line x1="376.91" y1="286.79" x2="376.95" y2="284.51" stroke="#707070" stroke-width="0.6"/>
<line x1="370.75" y1="288.28" x2="370.81" y2="284.55" stroke="#707070" stroke-width="0.6"/>
<line x1="364.51" y1="289.79" x2="364.54" y2="287.48" stroke="#707070" stroke-width="0.6"/>
<line x1="358.19" y1="291.32" x2="358.22" y2="289" stroke="#707070" stroke-width="0.6"/>
<line x1="351.78" y1="292.87" x2="351.8" y2="290.54" stroke="#707070" stroke-width="0.6"/>
<line x1="345.28" y1="294.44" x2="345.32" y2="290.63" stroke="#707070" stroke-width="0.6"/>
<line x1="338.7" y1="296.04" x2="338.71" y2="293.67" stroke="#707070" stroke-width="0.6"/>
<line x1="332.02" y1="297.65" x2="332.03" y2="295.28" stroke="#707070" stroke-width="0.6"/>
<line x1="325.26" y1="299.29" x2="325.26" y2="296.9" stroke="#707070" stroke-width="0.6"/>
<line x1="318.4" y1="300.95" x2="318.4" y2="297.04" stroke="#707070" stroke-width="0.6"/>
<line x1="311.44" y1="302.64" x2="311.44" y2="300.21" stroke="#707070" stroke-width="0.6"/>
<line x1="304.39" y1="304.34" x2="304.38" y2="301.9" stroke="#707070" stroke-width="0.6"/>
<line x1="297.23" y1="306.08" x2="297.22" y2="303.62" stroke="#707070" stroke-width="0.6"/>
<line x1="289.98" y1="307.83" x2="289.95" y2="303.81" stroke="#707070" stroke-width="0.6"/>
<text x="126" y="208.2" font-size="9.3" text-anchor="start" textLength="67.4" lengthAdjust="spacingAndGlyphs">Free Energy (Bits)</text>
<text x="206.8" y="281" font-size="8.3" text-anchor="start" textLength="18" lengthAdjust="spacingAndGlyphs">−53.0</text>
<text x="220.5" y="288.3" font-size="8.3" text-anchor="start" textLength="18" lengthAdjust="spacingAndGlyphs">−53.5</text>
<text x="235.5" y="295.5" font-size="8.3" text-anchor="start" textLength="18" lengthAdjust="spacingAndGlyphs">−54.0</text>
<text x="250.5" y="302.8" font-size="8.3" text-anchor="start" textLength="18" lengthAdjust="spacingAndGlyphs">−54.5</text>
<text x="267.3" y="311.9" font-size="8.3" text-anchor="start" textLength="18" lengthAdjust="spacingAndGlyphs">−55.0</text>
<text x="204.9" y="325.8" font-size="9.3" text-anchor="start" textLength="87.4" lengthAdjust="spacingAndGlyphs">Log(Kinetic Energy) (J)</text>
<text x="292.1" y="314.6" font-size="8.3" text-anchor="start">1.0</text>
<text x="319.8" y="307.3" font-size="8.3" text-anchor="start">0.8</text>
<text x="346.3" y="300.3" font-size="8.3" text-anchor="start">0.6</text>
<text x="372.1" y="293.8" font-size="8.3" text-anchor="start">0.4</text>
<text x="396.1" y="288" font-size="8.3" text-anchor="start">0.2</text>
<text x="362.5" y="304.7" font-size="9.3" text-anchor="start" textLength="71.8" lengthAdjust="spacingAndGlyphs">Sufficient Statistics</text>
</svg>
</body></html>
